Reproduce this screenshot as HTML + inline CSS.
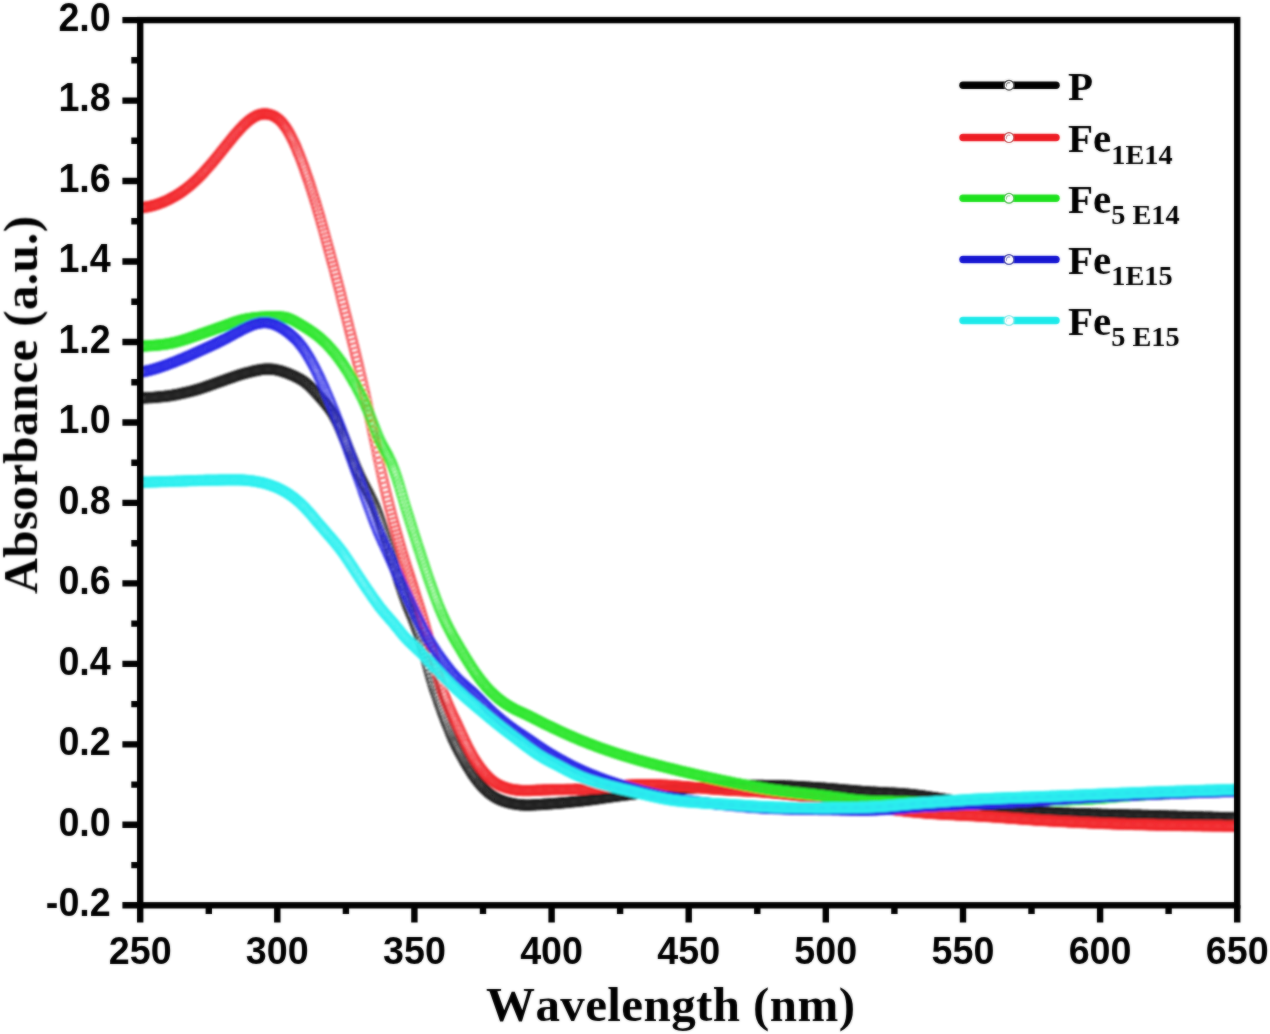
<!DOCTYPE html>
<html><head><meta charset="utf-8"><title>Absorbance vs Wavelength</title>
<style>
html,body{margin:0;padding:0;background:#fff;}
body{width:1270px;height:1034px;overflow:hidden;}
svg{display:block;}
.tick{font-family:"Liberation Sans",sans-serif;font-weight:bold;font-size:37.7px;fill:#000;}
.ttl{font-family:"Liberation Serif",serif;font-weight:bold;font-size:49px;fill:#000;font-kerning:none;}
.leg{font-family:"Liberation Serif",serif;font-weight:bold;font-size:41px;fill:#000;font-kerning:none;}
.sub{font-size:28.3px;}
</style></head><body>
<svg width="1270" height="1034" viewBox="0 0 1270 1034">
<defs>
<filter id="soft" x="-2%" y="-2%" width="104%" height="104%"><feGaussianBlur stdDeviation="0.8"/></filter>
<filter id="soft2" x="-2%" y="-2%" width="104%" height="104%"><feGaussianBlur stdDeviation="0.8" result="b"/><feComposite in="SourceGraphic" in2="b" operator="arithmetic" k1="0" k2="0.55" k3="0.45" k4="0"/></filter>
<clipPath id="plot"><rect x="140.2" y="20.1" width="1097.0" height="885.2"/></clipPath>
<marker id="m-black" markerUnits="userSpaceOnUse" markerWidth="16" markerHeight="16" refX="8" refY="8" overflow="visible"><circle cx="8" cy="8" r="5.0" fill="none" stroke="#1c1c1c" stroke-width="1.25" stroke-opacity="0.85"/></marker>
<marker id="m-red" markerUnits="userSpaceOnUse" markerWidth="16" markerHeight="16" refX="8" refY="8" overflow="visible"><circle cx="8" cy="8" r="5.0" fill="none" stroke="#f2282e" stroke-width="1.25" stroke-opacity="0.85"/></marker>
<marker id="m-green" markerUnits="userSpaceOnUse" markerWidth="16" markerHeight="16" refX="8" refY="8" overflow="visible"><circle cx="8" cy="8" r="5.0" fill="none" stroke="#2ee62e" stroke-width="1.25" stroke-opacity="0.85"/></marker>
<marker id="m-blue" markerUnits="userSpaceOnUse" markerWidth="16" markerHeight="16" refX="8" refY="8" overflow="visible"><circle cx="8" cy="8" r="5.0" fill="none" stroke="#2a2ae6" stroke-width="1.25" stroke-opacity="0.85"/></marker>
<marker id="m-cyan" markerUnits="userSpaceOnUse" markerWidth="16" markerHeight="16" refX="8" refY="8" overflow="visible"><circle cx="8" cy="8" r="5.0" fill="none" stroke="#2cf0f0" stroke-width="1.25" stroke-opacity="0.85"/></marker>
</defs>
<rect width="100%" height="100%" fill="#fff"/>
<g clip-path="url(#plot)" filter="url(#soft)">
<polyline fill="none" stroke="none" marker-start="url(#m-black)" marker-mid="url(#m-black)" marker-end="url(#m-black)" points="140.2,397.9 141.3,397.9 142.4,397.9 143.5,397.9 144.6,397.9 145.7,397.8 146.8,397.8 147.9,397.7 149.0,397.7 150.1,397.6 151.2,397.5 152.3,397.5 153.4,397.4 154.5,397.3 155.6,397.2 156.7,397.1 157.8,397.0 158.8,396.9 159.9,396.8 161.0,396.7 162.1,396.6 163.2,396.5 164.3,396.4 165.4,396.2 166.5,396.1 167.6,396.0 168.7,395.8 169.8,395.7 170.9,395.5 172.0,395.3 173.1,395.1 174.2,394.9 175.3,394.7 176.4,394.5 177.5,394.3 178.6,394.1 179.7,393.8 180.8,393.6 181.9,393.3 183.0,393.1 184.1,392.9 185.2,392.6 186.3,392.3 187.4,392.1 188.5,391.8 189.6,391.5 190.7,391.3 191.8,391.0 192.9,390.7 194.0,390.4 195.0,390.1 196.1,389.8 197.2,389.5 198.3,389.2 199.4,388.8 200.5,388.5 201.6,388.1 202.7,387.8 203.8,387.4 204.9,387.0 206.0,386.6 207.1,386.2 208.2,385.9 209.3,385.5 210.4,385.1 211.5,384.7 212.6,384.3 213.7,383.9 214.8,383.5 215.9,383.1 217.0,382.7 218.1,382.3 219.2,381.9 220.3,381.6 221.4,381.2 222.5,380.8 223.6,380.4 224.7,380.0 225.8,379.6 226.9,379.2 228.0,378.8 229.1,378.4 230.2,378.1 231.3,377.7 232.3,377.3 233.4,376.9 234.5,376.5 235.6,376.1 236.7,375.8 237.8,375.4 238.9,375.1 240.0,374.7 241.1,374.4 242.2,374.0 243.3,373.7 244.4,373.4 245.5,373.1 246.6,372.8 247.7,372.5 248.8,372.3 249.9,372.0 251.0,371.7 252.1,371.4 253.2,371.2 254.3,370.9 255.4,370.7 256.5,370.4 257.6,370.2 258.7,370.0 259.8,369.8 260.9,369.6 262.0,369.4 263.1,369.3 264.2,369.1 265.3,369.1 266.4,369.0 267.5,369.0 268.5,369.0 269.6,369.0 270.7,369.1 271.8,369.2 272.9,369.3 274.0,369.4 275.1,369.6 276.2,369.8 277.3,370.0 278.4,370.3 279.5,370.5 280.6,370.8 281.7,371.2 282.8,371.5 283.9,371.9 285.0,372.3 286.1,372.7 287.2,373.1 288.3,373.5 289.4,373.9 290.5,374.4 291.6,374.9 292.7,375.3 293.8,375.8 294.9,376.3 296.0,376.9 297.1,377.4 298.2,378.0 299.3,378.6 300.4,379.2 301.5,379.9 302.6,380.6 303.7,381.3 304.8,382.1 305.8,382.9 306.9,383.8 308.0,384.8 309.1,385.8 310.2,386.8 311.3,387.9 312.4,389.0 313.5,390.2 314.6,391.3 315.7,392.5 316.8,393.8 317.9,395.0 319.0,396.2 320.1,397.5 321.2,398.7 322.3,400.0 323.4,401.3 324.5,402.6 325.6,403.9 326.7,405.3 327.8,406.7 328.9,408.1 330.0,409.7 331.1,411.3 332.2,413.0 333.3,414.8 334.4,416.7 335.5,418.8 336.6,420.9 337.7,423.1 338.8,425.5 339.9,427.9 341.0,430.4 342.0,433.0 343.1,435.6 344.2,438.3 345.3,441.0 346.4,443.8 347.5,446.6 348.6,449.3 349.7,452.1 350.8,454.9 351.9,457.6 353.0,460.3 354.1,463.0 355.2,465.7 356.3,468.3 357.4,470.8 358.5,473.3 359.6,475.7 360.7,478.0 361.8,480.3 362.9,482.5 364.0,484.7 365.1,486.8 366.2,488.9 367.3,491.0 368.4,493.1 369.5,495.3 370.6,497.5 371.7,499.7 372.8,502.1 373.9,504.5 375.0,507.1 376.1,509.7 377.2,512.4 378.2,515.3 379.3,518.2 380.4,521.3 381.5,524.4 382.6,527.6 383.7,530.9 384.8,534.2 385.9,537.7 387.0,541.2 388.1,544.7 389.2,548.4 390.3,552.0 391.4,555.7 392.5,559.5 393.6,563.2 394.7,566.9 395.8,570.6 396.9,574.3 398.0,577.9 399.1,581.5 400.2,584.9 401.3,588.3 402.4,591.6 403.5,594.7 404.6,597.8 405.7,600.8 406.8,603.7 407.9,606.5 409.0,609.2 410.1,611.9 411.2,614.5 412.3,617.2 413.4,619.9 414.4,622.6 415.5,625.4 416.6,628.4 417.7,631.5 418.8,634.7 419.9,638.1 421.0,641.7 422.1,645.5 423.2,649.4 424.3,653.4 425.4,657.5 426.5,661.6 427.6,665.7 428.7,669.7 429.8,673.7 430.9,677.5 432.0,681.3 433.1,684.9 434.2,688.4 435.3,691.8 436.4,695.1 437.5,698.3 438.6,701.5 439.7,704.6 440.8,707.6 441.9,710.7 443.0,713.7 444.1,716.6 445.2,719.5 446.3,722.4 447.4,725.3 448.5,728.1 449.6,730.8 450.7,733.5 451.7,736.0 452.8,738.6 453.9,741.0 455.0,743.3 456.1,745.6 457.2,747.8 458.3,750.0 459.4,752.1 460.5,754.1 461.6,756.1 462.7,758.1 463.8,760.0 464.9,761.9 466.0,763.7 467.1,765.6 468.2,767.4 469.3,769.2 470.4,771.0 471.5,772.7 472.6,774.4 473.7,776.0 474.8,777.6 475.9,779.1 477.0,780.6 478.1,782.0 479.2,783.3 480.3,784.6 481.4,785.9 482.5,787.1 483.6,788.2 484.7,789.3 485.8,790.3 486.9,791.3 487.9,792.2 489.0,793.1 490.1,794.0 491.2,794.8 492.3,795.6 493.4,796.3 494.5,797.0 495.6,797.6 496.7,798.2 497.8,798.8 498.9,799.3 500.0,799.8 501.1,800.2 502.2,800.7 503.3,801.1 504.4,801.4 505.5,801.8 506.6,802.1 507.7,802.4 508.8,802.7 509.9,803.0 511.0,803.2 512.1,803.5 513.2,803.7 514.3,803.9 515.4,804.1 516.5,804.3 517.6,804.4 518.7,804.6 519.8,804.7 520.9,804.8 522.0,804.9 523.1,804.9 524.1,805.0 525.2,805.0 526.3,805.0 527.4,805.0 528.5,805.0 529.6,805.0 530.7,805.0 531.8,804.9 532.9,804.9 534.0,804.8 535.1,804.8 536.2,804.7 537.3,804.6 538.4,804.6 539.5,804.5 540.6,804.5 541.7,804.4 542.8,804.3 543.9,804.2 545.0,804.2 546.1,804.1 547.2,804.0 548.3,803.9 549.4,803.9 550.5,803.8 551.6,803.7 552.7,803.6 553.8,803.5 554.9,803.4 556.0,803.3 557.1,803.3 558.2,803.2 559.3,803.1 560.4,803.0 561.4,802.9 562.5,802.8 563.6,802.7 564.7,802.6 565.8,802.5 566.9,802.4 568.0,802.3 569.1,802.1 570.2,802.0 571.3,801.9 572.4,801.8 573.5,801.7 574.6,801.6 575.7,801.5 576.8,801.4 577.9,801.2 579.0,801.1 580.1,801.0 581.2,800.9 582.3,800.8 583.4,800.6 584.5,800.5 585.6,800.4 586.7,800.2 587.8,800.1 588.9,800.0 590.0,799.8 591.1,799.7 592.2,799.5 593.3,799.4 594.4,799.2 595.5,799.1 596.6,798.9 597.6,798.8 598.7,798.6 599.8,798.5 600.9,798.3 602.0,798.1 603.1,798.0 604.2,797.8 605.3,797.6 606.4,797.5 607.5,797.3 608.6,797.2 609.7,797.0 610.8,796.9 611.9,796.7 613.0,796.6 614.1,796.4 615.2,796.3 616.3,796.1 617.4,796.0 618.5,795.8 619.6,795.7 620.7,795.5 621.8,795.4 622.9,795.3 624.0,795.1 625.1,795.0 626.2,794.9 627.3,794.7 628.4,794.6 629.5,794.4 630.6,794.3 631.7,794.2 632.8,794.0 633.8,793.9 634.9,793.8 636.0,793.6 637.1,793.5 638.2,793.4 639.3,793.2 640.4,793.1 641.5,793.0 642.6,792.8 643.7,792.7 644.8,792.6 645.9,792.4 647.0,792.3 648.1,792.2 649.2,792.0 650.3,791.9 651.4,791.8 652.5,791.7 653.6,791.6 654.7,791.4 655.8,791.3 656.9,791.2 658.0,791.1 659.1,791.0 660.2,790.8 661.3,790.7 662.4,790.6 663.5,790.5 664.6,790.4 665.7,790.3 666.8,790.2 667.9,790.1 669.0,790.0 670.1,789.9 671.1,789.8 672.2,789.7 673.3,789.6 674.4,789.5 675.5,789.4 676.6,789.3 677.7,789.2 678.8,789.1 679.9,789.0 681.0,788.9 682.1,788.8 683.2,788.7 684.3,788.7 685.4,788.6 686.5,788.5 687.6,788.4 688.7,788.3 689.8,788.2 690.9,788.1 692.0,788.0 693.1,788.0 694.2,787.9 695.3,787.8 696.4,787.7 697.5,787.6 698.6,787.5 699.7,787.4 700.8,787.4 701.9,787.3 703.0,787.2 704.1,787.1 705.2,787.0 706.3,786.9 707.3,786.9 708.4,786.8 709.5,786.7 710.6,786.6 711.7,786.5 712.8,786.5 713.9,786.4 715.0,786.3 716.1,786.3 717.2,786.2 718.3,786.1 719.4,786.1 720.5,786.0 721.6,785.9 722.7,785.9 723.8,785.8 724.9,785.8 726.0,785.7 727.1,785.7 728.2,785.6 729.3,785.6 730.4,785.6 731.5,785.5 732.6,785.5 733.7,785.5 734.8,785.4 735.9,785.4 737.0,785.4 738.1,785.4 739.2,785.4 740.3,785.3 741.4,785.3 742.5,785.3 743.5,785.3 744.6,785.3 745.7,785.3 746.8,785.3 747.9,785.3 749.0,785.3 750.1,785.3 751.2,785.3 752.3,785.3 753.4,785.4 754.5,785.4 755.6,785.4 756.7,785.4 757.8,785.4 758.9,785.4 760.0,785.4 761.1,785.4 762.2,785.4 763.3,785.4 764.4,785.5 765.5,785.5 766.6,785.5 767.7,785.5 768.8,785.5 769.9,785.5 771.0,785.6 772.1,785.6 773.2,785.6 774.3,785.6 775.4,785.6 776.5,785.7 777.6,785.7 778.7,785.7 779.8,785.7 780.8,785.8 781.9,785.8 783.0,785.8 784.1,785.9 785.2,785.9 786.3,786.0 787.4,786.0 788.5,786.1 789.6,786.1 790.7,786.2 791.8,786.2 792.9,786.3 794.0,786.3 795.1,786.4 796.2,786.4 797.3,786.5 798.4,786.6 799.5,786.6 800.6,786.7 801.7,786.7 802.8,786.8 803.9,786.9 805.0,786.9 806.1,787.0 807.2,787.1 808.3,787.1 809.4,787.2 810.5,787.3 811.6,787.4 812.7,787.4 813.8,787.5 814.9,787.6 816.0,787.6 817.0,787.7 818.1,787.8 819.2,787.8 820.3,787.9 821.4,788.0 822.5,788.1 823.6,788.1 824.7,788.2 825.8,788.3 826.9,788.4 828.0,788.5 829.1,788.5 830.2,788.6 831.3,788.7 832.4,788.8 833.5,788.9 834.6,789.0 835.7,789.1 836.8,789.2 837.9,789.3 839.0,789.4 840.1,789.5 841.2,789.6 842.3,789.7 843.4,789.8 844.5,789.9 845.6,790.0 846.7,790.1 847.8,790.2 848.9,790.3 850.0,790.3 851.1,790.4 852.2,790.5 853.2,790.6 854.3,790.7 855.4,790.8 856.5,790.9 857.6,791.0 858.7,791.1 859.8,791.2 860.9,791.3 862.0,791.4 863.1,791.5 864.2,791.5 865.3,791.6 866.4,791.7 867.5,791.8 868.6,791.8 869.7,791.9 870.8,792.0 871.9,792.1 873.0,792.1 874.1,792.2 875.2,792.2 876.3,792.3 877.4,792.4 878.5,792.4 879.6,792.5 880.7,792.5 881.8,792.6 882.9,792.6 884.0,792.7 885.1,792.7 886.2,792.8 887.3,792.9 888.4,792.9 889.5,793.0 890.5,793.0 891.6,793.1 892.7,793.1 893.8,793.2 894.9,793.2 896.0,793.3 897.1,793.4 898.2,793.4 899.3,793.5 900.4,793.6 901.5,793.6 902.6,793.7 903.7,793.8 904.8,793.9 905.9,794.0 907.0,794.1 908.1,794.2 909.2,794.3 910.3,794.4 911.4,794.5 912.5,794.6 913.6,794.7 914.7,794.8 915.8,795.0 916.9,795.1 918.0,795.3 919.1,795.4 920.2,795.5 921.3,795.7 922.4,795.8 923.5,796.0 924.6,796.2 925.7,796.3 926.7,796.5 927.8,796.7 928.9,796.8 930.0,797.0 931.1,797.2 932.2,797.3 933.3,797.5 934.4,797.7 935.5,797.8 936.6,798.0 937.7,798.2 938.8,798.3 939.9,798.5 941.0,798.6 942.1,798.8 943.2,799.0 944.3,799.1 945.4,799.3 946.5,799.5 947.6,799.6 948.7,799.8 949.8,800.0 950.9,800.1 952.0,800.3 953.1,800.5 954.2,800.6 955.3,800.8 956.4,801.0 957.5,801.1 958.6,801.3 959.7,801.5 960.8,801.7 961.9,801.8 963.0,802.0 964.0,802.2 965.1,802.3 966.2,802.5 967.3,802.7 968.4,802.8 969.5,803.0 970.6,803.2 971.7,803.3 972.8,803.5 973.9,803.7 975.0,803.9 976.1,804.0 977.2,804.2 978.3,804.4 979.4,804.5 980.5,804.7 981.6,804.9 982.7,805.1 983.8,805.2 984.9,805.4 986.0,805.6 987.1,805.7 988.2,805.9 989.3,806.0 990.4,806.2 991.5,806.3 992.6,806.5 993.7,806.7 994.8,806.8 995.9,806.9 997.0,807.1 998.1,807.2 999.2,807.4 1000.2,807.5 1001.3,807.6 1002.4,807.8 1003.5,807.9 1004.6,808.0 1005.7,808.2 1006.8,808.3 1007.9,808.4 1009.0,808.6 1010.1,808.7 1011.2,808.8 1012.3,808.9 1013.4,809.1 1014.5,809.2 1015.6,809.3 1016.7,809.4 1017.8,809.6 1018.9,809.7 1020.0,809.8 1021.1,809.9 1022.2,810.0 1023.3,810.1 1024.4,810.3 1025.5,810.4 1026.6,810.5 1027.7,810.6 1028.8,810.7 1029.9,810.8 1031.0,810.9 1032.1,811.0 1033.2,811.1 1034.3,811.2 1035.4,811.3 1036.4,811.4 1037.5,811.5 1038.6,811.6 1039.7,811.6 1040.8,811.7 1041.9,811.8 1043.0,811.9 1044.1,812.0 1045.2,812.0 1046.3,812.1 1047.4,812.2 1048.5,812.2 1049.6,812.3 1050.7,812.4 1051.8,812.4 1052.9,812.5 1054.0,812.5 1055.1,812.6 1056.2,812.7 1057.3,812.7 1058.4,812.8 1059.5,812.8 1060.6,812.9 1061.7,812.9 1062.8,813.0 1063.9,813.0 1065.0,813.1 1066.1,813.1 1067.2,813.1 1068.3,813.2 1069.4,813.2 1070.5,813.3 1071.6,813.3 1072.6,813.4 1073.7,813.4 1074.8,813.4 1075.9,813.5 1077.0,813.5 1078.1,813.6 1079.2,813.6 1080.3,813.6 1081.4,813.7 1082.5,813.7 1083.6,813.7 1084.7,813.8 1085.8,813.8 1086.9,813.8 1088.0,813.9 1089.1,813.9 1090.2,813.9 1091.3,814.0 1092.4,814.0 1093.5,814.0 1094.6,814.1 1095.7,814.1 1096.8,814.1 1097.9,814.2 1099.0,814.2 1100.1,814.2 1101.2,814.3 1102.3,814.3 1103.4,814.3 1104.5,814.3 1105.6,814.4 1106.7,814.4 1107.8,814.4 1108.9,814.5 1109.9,814.5 1111.0,814.5 1112.1,814.5 1113.2,814.6 1114.3,814.6 1115.4,814.6 1116.5,814.6 1117.6,814.7 1118.7,814.7 1119.8,814.7 1120.9,814.7 1122.0,814.8 1123.1,814.8 1124.2,814.8 1125.3,814.8 1126.4,814.9 1127.5,814.9 1128.6,814.9 1129.7,815.0 1130.8,815.0 1131.9,815.0 1133.0,815.0 1134.1,815.1 1135.2,815.1 1136.3,815.1 1137.4,815.1 1138.5,815.2 1139.6,815.2 1140.7,815.2 1141.8,815.3 1142.9,815.3 1144.0,815.3 1145.1,815.3 1146.1,815.4 1147.2,815.4 1148.3,815.4 1149.4,815.5 1150.5,815.5 1151.6,815.5 1152.7,815.6 1153.8,815.6 1154.9,815.6 1156.0,815.6 1157.1,815.7 1158.2,815.7 1159.3,815.7 1160.4,815.8 1161.5,815.8 1162.6,815.8 1163.7,815.9 1164.8,815.9 1165.9,815.9 1167.0,815.9 1168.1,816.0 1169.2,816.0 1170.3,816.0 1171.4,816.1 1172.5,816.1 1173.6,816.1 1174.7,816.2 1175.8,816.2 1176.9,816.2 1178.0,816.3 1179.1,816.3 1180.2,816.3 1181.3,816.3 1182.3,816.4 1183.4,816.4 1184.5,816.4 1185.6,816.5 1186.7,816.5 1187.8,816.5 1188.9,816.6 1190.0,816.6 1191.1,816.6 1192.2,816.7 1193.3,816.7 1194.4,816.7 1195.5,816.8 1196.6,816.8 1197.7,816.8 1198.8,816.8 1199.9,816.9 1201.0,816.9 1202.1,816.9 1203.2,817.0 1204.3,817.0 1205.4,817.0 1206.5,817.1 1207.6,817.1 1208.7,817.1 1209.8,817.2 1210.9,817.2 1212.0,817.2 1213.1,817.3 1214.2,817.3 1215.3,817.3 1216.4,817.4 1217.5,817.4 1218.6,817.4 1219.6,817.5 1220.7,817.5 1221.8,817.5 1222.9,817.6 1224.0,817.6 1225.1,817.6 1226.2,817.7 1227.3,817.7 1228.4,817.7 1229.5,817.8 1230.6,817.8 1231.7,817.8 1232.8,817.8 1233.9,817.9 1235.0,817.9 1236.1,817.9 1237.2,817.9"/>
<polyline fill="none" stroke="none" marker-start="url(#m-red)" marker-mid="url(#m-red)" marker-end="url(#m-red)" points="140.2,207.7 141.3,207.6 142.4,207.5 143.5,207.4 144.6,207.2 145.7,207.1 146.8,206.9 147.9,206.7 149.0,206.5 150.1,206.2 151.2,206.0 152.3,205.7 153.4,205.4 154.5,205.1 155.6,204.8 156.7,204.4 157.8,204.0 158.8,203.7 159.9,203.3 161.0,202.8 162.1,202.4 163.2,201.9 164.3,201.5 165.4,201.0 166.5,200.5 167.6,200.0 168.7,199.4 169.8,198.9 170.9,198.3 172.0,197.7 173.1,197.1 174.2,196.5 175.3,195.9 176.4,195.2 177.5,194.6 178.6,193.9 179.7,193.2 180.8,192.4 181.9,191.7 183.0,190.9 184.1,190.1 185.2,189.3 186.3,188.5 187.4,187.6 188.5,186.7 189.6,185.8 190.7,184.9 191.8,184.0 192.9,183.0 194.0,182.0 195.0,181.0 196.1,180.0 197.2,179.0 198.3,177.9 199.4,176.8 200.5,175.7 201.6,174.5 202.7,173.4 203.8,172.2 204.9,171.0 206.0,169.8 207.1,168.6 208.2,167.3 209.3,166.1 210.4,164.8 211.5,163.5 212.6,162.2 213.7,160.9 214.8,159.6 215.9,158.2 217.0,156.9 218.1,155.5 219.2,154.2 220.3,152.8 221.4,151.5 222.5,150.1 223.6,148.7 224.7,147.3 225.8,146.0 226.9,144.6 228.0,143.2 229.1,141.9 230.2,140.5 231.3,139.2 232.3,137.9 233.4,136.5 234.5,135.2 235.6,134.0 236.7,132.7 237.8,131.4 238.9,130.2 240.0,129.0 241.1,127.9 242.2,126.7 243.3,125.6 244.4,124.5 245.5,123.5 246.6,122.5 247.7,121.5 248.8,120.6 249.9,119.8 251.0,118.9 252.1,118.2 253.2,117.5 254.3,116.8 255.4,116.2 256.5,115.7 257.6,115.2 258.7,114.8 259.8,114.5 260.9,114.2 262.0,114.0 263.1,113.9 264.2,113.8 265.3,113.8 266.4,113.9 267.5,114.0 268.5,114.2 269.6,114.5 270.7,114.8 271.8,115.1 272.9,115.6 274.0,116.1 275.1,116.7 276.2,117.4 277.3,118.2 278.4,119.0 279.5,120.0 280.6,121.1 281.7,122.3 282.8,123.6 283.9,125.0 285.0,126.5 286.1,128.1 287.2,129.8 288.3,131.6 289.4,133.6 290.5,135.6 291.6,137.7 292.7,139.9 293.8,142.2 294.9,144.6 296.0,147.1 297.1,149.7 298.2,152.4 299.3,155.1 300.4,157.9 301.5,160.7 302.6,163.7 303.7,166.6 304.8,169.7 305.8,172.8 306.9,175.9 308.0,179.1 309.1,182.3 310.2,185.6 311.3,189.0 312.4,192.4 313.5,195.9 314.6,199.4 315.7,203.0 316.8,206.7 317.9,210.4 319.0,214.2 320.1,218.1 321.2,221.9 322.3,225.8 323.4,229.8 324.5,233.7 325.6,237.7 326.7,241.7 327.8,245.7 328.9,249.8 330.0,253.8 331.1,257.9 332.2,262.0 333.3,266.1 334.4,270.2 335.5,274.4 336.6,278.6 337.7,282.8 338.8,287.0 339.9,291.3 341.0,295.6 342.0,299.9 343.1,304.2 344.2,308.5 345.3,312.9 346.4,317.3 347.5,321.6 348.6,326.0 349.7,330.4 350.8,334.8 351.9,339.2 353.0,343.6 354.1,348.0 355.2,352.5 356.3,357.0 357.4,361.5 358.5,366.1 359.6,370.8 360.7,375.5 361.8,380.3 362.9,385.1 364.0,390.1 365.1,395.1 366.2,400.2 367.3,405.3 368.4,410.5 369.5,415.7 370.6,420.9 371.7,426.2 372.8,431.5 373.9,436.7 375.0,442.0 376.1,447.2 377.2,452.5 378.2,457.7 379.3,462.8 380.4,467.9 381.5,472.9 382.6,477.9 383.7,482.8 384.8,487.5 385.9,492.2 387.0,496.8 388.1,501.3 389.2,505.7 390.3,510.0 391.4,514.2 392.5,518.4 393.6,522.5 394.7,526.5 395.8,530.5 396.9,534.5 398.0,538.3 399.1,542.2 400.2,546.0 401.3,549.7 402.4,553.4 403.5,557.1 404.6,560.7 405.7,564.2 406.8,567.7 407.9,571.2 409.0,574.6 410.1,578.0 411.2,581.4 412.3,584.8 413.4,588.2 414.4,591.6 415.5,595.0 416.6,598.4 417.7,601.9 418.8,605.4 419.9,608.9 421.0,612.5 422.1,616.2 423.2,619.8 424.3,623.6 425.4,627.3 426.5,631.2 427.6,635.1 428.7,639.1 429.8,643.2 430.9,647.3 432.0,651.5 433.1,655.8 434.2,660.1 435.3,664.3 436.4,668.5 437.5,672.7 438.6,676.8 439.7,680.7 440.8,684.4 441.9,688.0 443.0,691.4 444.1,694.6 445.2,697.6 446.3,700.5 447.4,703.2 448.5,705.8 449.6,708.3 450.7,710.7 451.7,713.0 452.8,715.4 453.9,717.7 455.0,719.9 456.1,722.2 457.2,724.6 458.3,726.9 459.4,729.3 460.5,731.7 461.6,734.0 462.7,736.4 463.8,738.8 464.9,741.2 466.0,743.5 467.1,745.7 468.2,747.9 469.3,750.0 470.4,752.1 471.5,754.1 472.6,756.0 473.7,757.9 474.8,759.6 475.9,761.4 477.0,763.1 478.1,764.7 479.2,766.2 480.3,767.7 481.4,769.2 482.5,770.6 483.6,771.9 484.7,773.2 485.8,774.5 486.9,775.6 487.9,776.7 489.0,777.8 490.1,778.8 491.2,779.7 492.3,780.6 493.4,781.5 494.5,782.2 495.6,783.0 496.7,783.7 497.8,784.3 498.9,784.9 500.0,785.4 501.1,785.9 502.2,786.4 503.3,786.8 504.4,787.2 505.5,787.6 506.6,787.9 507.7,788.3 508.8,788.5 509.9,788.8 511.0,789.1 512.1,789.3 513.2,789.5 514.3,789.7 515.4,789.8 516.5,790.0 517.6,790.1 518.7,790.2 519.8,790.3 520.9,790.4 522.0,790.5 523.1,790.5 524.1,790.6 525.2,790.6 526.3,790.6 527.4,790.6 528.5,790.6 529.6,790.5 530.7,790.5 531.8,790.4 532.9,790.4 534.0,790.3 535.1,790.3 536.2,790.2 537.3,790.2 538.4,790.1 539.5,790.1 540.6,790.0 541.7,790.0 542.8,789.9 543.9,789.9 545.0,789.9 546.1,789.8 547.2,789.8 548.3,789.8 549.4,789.8 550.5,789.7 551.6,789.7 552.7,789.7 553.8,789.7 554.9,789.6 556.0,789.6 557.1,789.6 558.2,789.6 559.3,789.6 560.4,789.5 561.4,789.5 562.5,789.5 563.6,789.5 564.7,789.5 565.8,789.4 566.9,789.4 568.0,789.4 569.1,789.4 570.2,789.3 571.3,789.3 572.4,789.3 573.5,789.3 574.6,789.2 575.7,789.2 576.8,789.2 577.9,789.2 579.0,789.1 580.1,789.1 581.2,789.1 582.3,789.0 583.4,789.0 584.5,788.9 585.6,788.9 586.7,788.8 587.8,788.8 588.9,788.7 590.0,788.6 591.1,788.6 592.2,788.5 593.3,788.4 594.4,788.3 595.5,788.3 596.6,788.2 597.6,788.1 598.7,788.0 599.8,787.9 600.9,787.8 602.0,787.7 603.1,787.6 604.2,787.4 605.3,787.3 606.4,787.2 607.5,787.1 608.6,787.0 609.7,786.9 610.8,786.8 611.9,786.7 613.0,786.5 614.1,786.4 615.2,786.3 616.3,786.2 617.4,786.1 618.5,786.0 619.6,785.9 620.7,785.8 621.8,785.7 622.9,785.6 624.0,785.5 625.1,785.4 626.2,785.3 627.3,785.2 628.4,785.1 629.5,785.1 630.6,785.0 631.7,784.9 632.8,784.9 633.8,784.8 634.9,784.8 636.0,784.7 637.1,784.7 638.2,784.6 639.3,784.6 640.4,784.6 641.5,784.6 642.6,784.6 643.7,784.6 644.8,784.6 645.9,784.6 647.0,784.6 648.1,784.6 649.2,784.6 650.3,784.6 651.4,784.6 652.5,784.7 653.6,784.7 654.7,784.7 655.8,784.8 656.9,784.8 658.0,784.8 659.1,784.9 660.2,784.9 661.3,784.9 662.4,785.0 663.5,785.0 664.6,785.1 665.7,785.2 666.8,785.2 667.9,785.3 669.0,785.4 670.1,785.4 671.1,785.5 672.2,785.6 673.3,785.7 674.4,785.8 675.5,785.8 676.6,785.9 677.7,786.0 678.8,786.1 679.9,786.2 681.0,786.3 682.1,786.4 683.2,786.5 684.3,786.5 685.4,786.6 686.5,786.7 687.6,786.8 688.7,786.9 689.8,787.0 690.9,787.1 692.0,787.2 693.1,787.3 694.2,787.4 695.3,787.5 696.4,787.6 697.5,787.7 698.6,787.7 699.7,787.8 700.8,787.9 701.9,788.0 703.0,788.1 704.1,788.2 705.2,788.3 706.3,788.4 707.3,788.5 708.4,788.6 709.5,788.7 710.6,788.8 711.7,788.9 712.8,788.9 713.9,789.0 715.0,789.1 716.1,789.2 717.2,789.3 718.3,789.4 719.4,789.5 720.5,789.5 721.6,789.6 722.7,789.7 723.8,789.8 724.9,789.8 726.0,789.9 727.1,790.0 728.2,790.0 729.3,790.1 730.4,790.2 731.5,790.2 732.6,790.3 733.7,790.3 734.8,790.4 735.9,790.4 737.0,790.5 738.1,790.6 739.2,790.6 740.3,790.7 741.4,790.7 742.5,790.8 743.5,790.8 744.6,790.9 745.7,790.9 746.8,791.0 747.9,791.0 749.0,791.1 750.1,791.1 751.2,791.2 752.3,791.2 753.4,791.3 754.5,791.4 755.6,791.4 756.7,791.5 757.8,791.6 758.9,791.7 760.0,791.7 761.1,791.8 762.2,791.9 763.3,792.0 764.4,792.1 765.5,792.2 766.6,792.3 767.7,792.4 768.8,792.5 769.9,792.6 771.0,792.7 772.1,792.8 773.2,792.9 774.3,793.0 775.4,793.1 776.5,793.2 777.6,793.3 778.7,793.5 779.8,793.6 780.8,793.7 781.9,793.8 783.0,794.0 784.1,794.1 785.2,794.2 786.3,794.4 787.4,794.5 788.5,794.6 789.6,794.7 790.7,794.9 791.8,795.0 792.9,795.1 794.0,795.3 795.1,795.4 796.2,795.5 797.3,795.7 798.4,795.8 799.5,795.9 800.6,796.1 801.7,796.2 802.8,796.4 803.9,796.5 805.0,796.6 806.1,796.8 807.2,796.9 808.3,797.0 809.4,797.2 810.5,797.3 811.6,797.5 812.7,797.6 813.8,797.8 814.9,797.9 816.0,798.1 817.0,798.2 818.1,798.4 819.2,798.5 820.3,798.7 821.4,798.8 822.5,799.0 823.6,799.1 824.7,799.3 825.8,799.4 826.9,799.6 828.0,799.7 829.1,799.9 830.2,800.1 831.3,800.2 832.4,800.4 833.5,800.5 834.6,800.7 835.7,800.9 836.8,801.0 837.9,801.2 839.0,801.4 840.1,801.5 841.2,801.7 842.3,801.8 843.4,802.0 844.5,802.2 845.6,802.3 846.7,802.5 847.8,802.7 848.9,802.8 850.0,803.0 851.1,803.2 852.2,803.4 853.2,803.5 854.3,803.7 855.4,803.9 856.5,804.1 857.6,804.2 858.7,804.4 859.8,804.6 860.9,804.8 862.0,805.0 863.1,805.2 864.2,805.3 865.3,805.5 866.4,805.7 867.5,805.9 868.6,806.0 869.7,806.2 870.8,806.4 871.9,806.6 873.0,806.7 874.1,806.9 875.2,807.1 876.3,807.2 877.4,807.4 878.5,807.5 879.6,807.7 880.7,807.8 881.8,808.0 882.9,808.1 884.0,808.3 885.1,808.4 886.2,808.6 887.3,808.7 888.4,808.9 889.5,809.0 890.5,809.2 891.6,809.3 892.7,809.5 893.8,809.6 894.9,809.8 896.0,809.9 897.1,810.0 898.2,810.2 899.3,810.3 900.4,810.4 901.5,810.6 902.6,810.7 903.7,810.8 904.8,811.0 905.9,811.1 907.0,811.2 908.1,811.3 909.2,811.5 910.3,811.6 911.4,811.7 912.5,811.8 913.6,811.9 914.7,812.0 915.8,812.1 916.9,812.2 918.0,812.3 919.1,812.4 920.2,812.5 921.3,812.6 922.4,812.7 923.5,812.8 924.6,812.9 925.7,813.0 926.7,813.1 927.8,813.1 928.9,813.2 930.0,813.3 931.1,813.4 932.2,813.4 933.3,813.5 934.4,813.6 935.5,813.7 936.6,813.7 937.7,813.8 938.8,813.9 939.9,813.9 941.0,814.0 942.1,814.1 943.2,814.1 944.3,814.2 945.4,814.2 946.5,814.3 947.6,814.4 948.7,814.4 949.8,814.5 950.9,814.5 952.0,814.6 953.1,814.6 954.2,814.7 955.3,814.8 956.4,814.8 957.5,814.9 958.6,814.9 959.7,815.0 960.8,815.0 961.9,815.1 963.0,815.1 964.0,815.2 965.1,815.3 966.2,815.3 967.3,815.4 968.4,815.4 969.5,815.5 970.6,815.5 971.7,815.6 972.8,815.7 973.9,815.7 975.0,815.8 976.1,815.8 977.2,815.9 978.3,816.0 979.4,816.0 980.5,816.1 981.6,816.1 982.7,816.2 983.8,816.3 984.9,816.3 986.0,816.4 987.1,816.5 988.2,816.6 989.3,816.6 990.4,816.7 991.5,816.8 992.6,816.8 993.7,816.9 994.8,817.0 995.9,817.1 997.0,817.1 998.1,817.2 999.2,817.3 1000.2,817.4 1001.3,817.5 1002.4,817.5 1003.5,817.6 1004.6,817.7 1005.7,817.8 1006.8,817.9 1007.9,818.0 1009.0,818.0 1010.1,818.1 1011.2,818.2 1012.3,818.3 1013.4,818.4 1014.5,818.4 1015.6,818.5 1016.7,818.6 1017.8,818.7 1018.9,818.8 1020.0,818.9 1021.1,818.9 1022.2,819.0 1023.3,819.1 1024.4,819.2 1025.5,819.3 1026.6,819.3 1027.7,819.4 1028.8,819.5 1029.9,819.6 1031.0,819.7 1032.1,819.7 1033.2,819.8 1034.3,819.9 1035.4,820.0 1036.4,820.0 1037.5,820.1 1038.6,820.2 1039.7,820.2 1040.8,820.3 1041.9,820.4 1043.0,820.4 1044.1,820.5 1045.2,820.6 1046.3,820.6 1047.4,820.7 1048.5,820.8 1049.6,820.8 1050.7,820.9 1051.8,820.9 1052.9,821.0 1054.0,821.1 1055.1,821.1 1056.2,821.2 1057.3,821.2 1058.4,821.3 1059.5,821.4 1060.6,821.4 1061.7,821.5 1062.8,821.5 1063.9,821.6 1065.0,821.6 1066.1,821.7 1067.2,821.8 1068.3,821.8 1069.4,821.9 1070.5,821.9 1071.6,822.0 1072.6,822.0 1073.7,822.1 1074.8,822.1 1075.9,822.2 1077.0,822.2 1078.1,822.3 1079.2,822.4 1080.3,822.4 1081.4,822.5 1082.5,822.5 1083.6,822.6 1084.7,822.6 1085.8,822.7 1086.9,822.7 1088.0,822.8 1089.1,822.8 1090.2,822.9 1091.3,822.9 1092.4,823.0 1093.5,823.0 1094.6,823.1 1095.7,823.1 1096.8,823.2 1097.9,823.2 1099.0,823.3 1100.1,823.3 1101.2,823.4 1102.3,823.4 1103.4,823.4 1104.5,823.5 1105.6,823.5 1106.7,823.6 1107.8,823.6 1108.9,823.7 1109.9,823.7 1111.0,823.7 1112.1,823.8 1113.2,823.8 1114.3,823.9 1115.4,823.9 1116.5,823.9 1117.6,824.0 1118.7,824.0 1119.8,824.1 1120.9,824.1 1122.0,824.1 1123.1,824.2 1124.2,824.2 1125.3,824.2 1126.4,824.3 1127.5,824.3 1128.6,824.3 1129.7,824.3 1130.8,824.4 1131.9,824.4 1133.0,824.4 1134.1,824.5 1135.2,824.5 1136.3,824.5 1137.4,824.5 1138.5,824.6 1139.6,824.6 1140.7,824.6 1141.8,824.6 1142.9,824.7 1144.0,824.7 1145.1,824.7 1146.1,824.7 1147.2,824.8 1148.3,824.8 1149.4,824.8 1150.5,824.8 1151.6,824.9 1152.7,824.9 1153.8,824.9 1154.9,824.9 1156.0,825.0 1157.1,825.0 1158.2,825.0 1159.3,825.0 1160.4,825.0 1161.5,825.1 1162.6,825.1 1163.7,825.1 1164.8,825.1 1165.9,825.2 1167.0,825.2 1168.1,825.2 1169.2,825.2 1170.3,825.2 1171.4,825.3 1172.5,825.3 1173.6,825.3 1174.7,825.3 1175.8,825.3 1176.9,825.4 1178.0,825.4 1179.1,825.4 1180.2,825.4 1181.3,825.4 1182.3,825.5 1183.4,825.5 1184.5,825.5 1185.6,825.5 1186.7,825.5 1187.8,825.6 1188.9,825.6 1190.0,825.6 1191.1,825.6 1192.2,825.6 1193.3,825.6 1194.4,825.7 1195.5,825.7 1196.6,825.7 1197.7,825.7 1198.8,825.7 1199.9,825.7 1201.0,825.7 1202.1,825.8 1203.2,825.8 1204.3,825.8 1205.4,825.8 1206.5,825.8 1207.6,825.8 1208.7,825.8 1209.8,825.8 1210.9,825.9 1212.0,825.9 1213.1,825.9 1214.2,825.9 1215.3,825.9 1216.4,825.9 1217.5,825.9 1218.6,825.9 1219.6,825.9 1220.7,825.9 1221.8,825.9 1222.9,826.0 1224.0,826.0 1225.1,826.0 1226.2,826.0 1227.3,826.0 1228.4,826.0 1229.5,826.0 1230.6,826.0 1231.7,826.0 1232.8,826.0 1233.9,826.0 1235.0,826.0 1236.1,826.0 1237.2,826.0"/>
<polyline fill="none" stroke="none" marker-start="url(#m-green)" marker-mid="url(#m-green)" marker-end="url(#m-green)" points="140.2,346.1 141.3,346.1 142.4,346.0 143.5,346.0 144.6,345.9 145.7,345.9 146.8,345.8 147.9,345.8 149.0,345.7 150.1,345.6 151.2,345.5 152.3,345.5 153.4,345.4 154.5,345.3 155.6,345.2 156.7,345.1 157.8,345.0 158.8,344.9 159.9,344.8 161.0,344.7 162.1,344.5 163.2,344.4 164.3,344.3 165.4,344.1 166.5,343.9 167.6,343.8 168.7,343.6 169.8,343.4 170.9,343.2 172.0,342.9 173.1,342.7 174.2,342.5 175.3,342.2 176.4,341.9 177.5,341.6 178.6,341.3 179.7,341.0 180.8,340.7 181.9,340.4 183.0,340.1 184.1,339.7 185.2,339.4 186.3,339.0 187.4,338.7 188.5,338.3 189.6,337.9 190.7,337.6 191.8,337.2 192.9,336.8 194.0,336.4 195.0,336.1 196.1,335.7 197.2,335.3 198.3,334.9 199.4,334.5 200.5,334.1 201.6,333.7 202.7,333.3 203.8,333.0 204.9,332.6 206.0,332.2 207.1,331.8 208.2,331.4 209.3,331.0 210.4,330.6 211.5,330.3 212.6,329.9 213.7,329.5 214.8,329.1 215.9,328.7 217.0,328.3 218.1,327.9 219.2,327.5 220.3,327.2 221.4,326.8 222.5,326.4 223.6,326.0 224.7,325.6 225.8,325.2 226.9,324.8 228.0,324.4 229.1,324.0 230.2,323.6 231.3,323.2 232.3,322.8 233.4,322.4 234.5,322.1 235.6,321.7 236.7,321.3 237.8,321.0 238.9,320.7 240.0,320.4 241.1,320.1 242.2,319.8 243.3,319.5 244.4,319.3 245.5,319.1 246.6,318.8 247.7,318.6 248.8,318.5 249.9,318.3 251.0,318.1 252.1,318.0 253.2,317.8 254.3,317.7 255.4,317.6 256.5,317.5 257.6,317.4 258.7,317.3 259.8,317.2 260.9,317.1 262.0,317.0 263.1,317.0 264.2,316.9 265.3,316.8 266.4,316.8 267.5,316.8 268.5,316.7 269.6,316.7 270.7,316.7 271.8,316.7 272.9,316.6 274.0,316.6 275.1,316.6 276.2,316.6 277.3,316.7 278.4,316.7 279.5,316.7 280.6,316.8 281.7,316.9 282.8,317.0 283.9,317.1 285.0,317.3 286.1,317.6 287.2,317.9 288.3,318.2 289.4,318.6 290.5,319.0 291.6,319.5 292.7,320.1 293.8,320.6 294.9,321.2 296.0,321.8 297.1,322.5 298.2,323.1 299.3,323.7 300.4,324.4 301.5,325.0 302.6,325.7 303.7,326.3 304.8,327.0 305.8,327.7 306.9,328.3 308.0,329.0 309.1,329.7 310.2,330.5 311.3,331.2 312.4,332.0 313.5,332.7 314.6,333.5 315.7,334.4 316.8,335.2 317.9,336.1 319.0,337.0 320.1,337.9 321.2,338.9 322.3,339.9 323.4,340.9 324.5,342.0 325.6,343.0 326.7,344.1 327.8,345.3 328.9,346.5 330.0,347.7 331.1,348.9 332.2,350.2 333.3,351.5 334.4,352.8 335.5,354.2 336.6,355.6 337.7,357.0 338.8,358.5 339.9,360.0 341.0,361.5 342.0,363.0 343.1,364.6 344.2,366.2 345.3,367.9 346.4,369.6 347.5,371.3 348.6,373.1 349.7,374.9 350.8,376.7 351.9,378.5 353.0,380.4 354.1,382.4 355.2,384.3 356.3,386.3 357.4,388.4 358.5,390.5 359.6,392.6 360.7,394.8 361.8,397.0 362.9,399.3 364.0,401.7 365.1,404.1 366.2,406.7 367.3,409.3 368.4,412.0 369.5,414.7 370.6,417.5 371.7,420.4 372.8,423.3 373.9,426.1 375.0,429.0 376.1,431.7 377.2,434.4 378.2,436.9 379.3,439.4 380.4,441.7 381.5,443.9 382.6,446.0 383.7,448.0 384.8,450.0 385.9,452.0 387.0,454.0 388.1,456.1 389.2,458.4 390.3,460.7 391.4,463.1 392.5,465.8 393.6,468.6 394.7,471.6 395.8,474.7 396.9,478.0 398.0,481.5 399.1,485.1 400.2,488.7 401.3,492.5 402.4,496.2 403.5,500.0 404.6,503.7 405.7,507.4 406.8,511.0 407.9,514.6 409.0,518.1 410.1,521.6 411.2,525.1 412.3,528.5 413.4,531.9 414.4,535.3 415.5,538.6 416.6,542.0 417.7,545.4 418.8,548.8 419.9,552.1 421.0,555.5 422.1,558.9 423.2,562.2 424.3,565.6 425.4,568.9 426.5,572.2 427.6,575.4 428.7,578.7 429.8,581.9 430.9,585.1 432.0,588.2 433.1,591.3 434.2,594.3 435.3,597.3 436.4,600.2 437.5,603.1 438.6,605.9 439.7,608.6 440.8,611.2 441.9,613.8 443.0,616.3 444.1,618.8 445.2,621.1 446.3,623.4 447.4,625.6 448.5,627.8 449.6,629.9 450.7,631.9 451.7,633.9 452.8,635.9 453.9,637.9 455.0,639.8 456.1,641.7 457.2,643.6 458.3,645.5 459.4,647.3 460.5,649.2 461.6,651.0 462.7,652.8 463.8,654.6 464.9,656.5 466.0,658.2 467.1,660.0 468.2,661.8 469.3,663.5 470.4,665.3 471.5,667.0 472.6,668.6 473.7,670.3 474.8,671.9 475.9,673.5 477.0,675.1 478.1,676.6 479.2,678.1 480.3,679.5 481.4,680.9 482.5,682.3 483.6,683.6 484.7,684.9 485.8,686.2 486.9,687.4 487.9,688.6 489.0,689.8 490.1,690.9 491.2,692.0 492.3,693.1 493.4,694.1 494.5,695.1 495.6,696.1 496.7,697.0 497.8,698.0 498.9,698.9 500.0,699.7 501.1,700.6 502.2,701.4 503.3,702.2 504.4,703.0 505.5,703.7 506.6,704.4 507.7,705.1 508.8,705.8 509.9,706.5 511.0,707.1 512.1,707.7 513.2,708.3 514.3,708.9 515.4,709.5 516.5,710.0 517.6,710.6 518.7,711.1 519.8,711.6 520.9,712.1 522.0,712.6 523.1,713.1 524.1,713.6 525.2,714.1 526.3,714.6 527.4,715.1 528.5,715.7 529.6,716.2 530.7,716.7 531.8,717.3 532.9,717.8 534.0,718.4 535.1,718.9 536.2,719.5 537.3,720.1 538.4,720.6 539.5,721.2 540.6,721.8 541.7,722.3 542.8,722.9 543.9,723.4 545.0,724.0 546.1,724.5 547.2,725.0 548.3,725.6 549.4,726.1 550.5,726.6 551.6,727.2 552.7,727.7 553.8,728.2 554.9,728.7 556.0,729.2 557.1,729.7 558.2,730.3 559.3,730.8 560.4,731.3 561.4,731.8 562.5,732.3 563.6,732.8 564.7,733.3 565.8,733.8 566.9,734.3 568.0,734.8 569.1,735.3 570.2,735.8 571.3,736.2 572.4,736.7 573.5,737.2 574.6,737.7 575.7,738.1 576.8,738.6 577.9,739.1 579.0,739.5 580.1,740.0 581.2,740.4 582.3,740.9 583.4,741.3 584.5,741.7 585.6,742.2 586.7,742.6 587.8,743.0 588.9,743.5 590.0,743.9 591.1,744.3 592.2,744.7 593.3,745.1 594.4,745.5 595.5,746.0 596.6,746.4 597.6,746.8 598.7,747.2 599.8,747.6 600.9,748.0 602.0,748.4 603.1,748.8 604.2,749.1 605.3,749.5 606.4,749.9 607.5,750.3 608.6,750.7 609.7,751.1 610.8,751.4 611.9,751.8 613.0,752.2 614.1,752.5 615.2,752.9 616.3,753.3 617.4,753.6 618.5,754.0 619.6,754.3 620.7,754.7 621.8,755.0 622.9,755.4 624.0,755.7 625.1,756.1 626.2,756.4 627.3,756.7 628.4,757.1 629.5,757.4 630.6,757.7 631.7,758.1 632.8,758.4 633.8,758.7 634.9,759.0 636.0,759.3 637.1,759.7 638.2,760.0 639.3,760.3 640.4,760.6 641.5,760.9 642.6,761.2 643.7,761.5 644.8,761.8 645.9,762.1 647.0,762.4 648.1,762.7 649.2,763.0 650.3,763.3 651.4,763.6 652.5,763.9 653.6,764.2 654.7,764.4 655.8,764.7 656.9,765.0 658.0,765.3 659.1,765.6 660.2,765.9 661.3,766.1 662.4,766.4 663.5,766.7 664.6,767.0 665.7,767.3 666.8,767.5 667.9,767.8 669.0,768.1 670.1,768.3 671.1,768.6 672.2,768.9 673.3,769.2 674.4,769.4 675.5,769.7 676.6,770.0 677.7,770.2 678.8,770.5 679.9,770.8 681.0,771.0 682.1,771.3 683.2,771.6 684.3,771.8 685.4,772.1 686.5,772.4 687.6,772.6 688.7,772.9 689.8,773.2 690.9,773.4 692.0,773.7 693.1,773.9 694.2,774.2 695.3,774.5 696.4,774.7 697.5,775.0 698.6,775.2 699.7,775.5 700.8,775.7 701.9,776.0 703.0,776.2 704.1,776.5 705.2,776.7 706.3,777.0 707.3,777.2 708.4,777.5 709.5,777.7 710.6,778.0 711.7,778.2 712.8,778.4 713.9,778.7 715.0,778.9 716.1,779.2 717.2,779.4 718.3,779.6 719.4,779.9 720.5,780.1 721.6,780.3 722.7,780.6 723.8,780.8 724.9,781.0 726.0,781.2 727.1,781.5 728.2,781.7 729.3,781.9 730.4,782.1 731.5,782.4 732.6,782.6 733.7,782.8 734.8,783.0 735.9,783.3 737.0,783.5 738.1,783.7 739.2,783.9 740.3,784.1 741.4,784.3 742.5,784.6 743.5,784.8 744.6,785.0 745.7,785.2 746.8,785.4 747.9,785.6 749.0,785.8 750.1,786.1 751.2,786.3 752.3,786.5 753.4,786.7 754.5,786.9 755.6,787.1 756.7,787.3 757.8,787.5 758.9,787.7 760.0,787.9 761.1,788.0 762.2,788.2 763.3,788.4 764.4,788.6 765.5,788.8 766.6,789.0 767.7,789.1 768.8,789.3 769.9,789.5 771.0,789.6 772.1,789.8 773.2,790.0 774.3,790.1 775.4,790.3 776.5,790.4 777.6,790.6 778.7,790.7 779.8,790.9 780.8,791.0 781.9,791.2 783.0,791.3 784.1,791.5 785.2,791.6 786.3,791.7 787.4,791.9 788.5,792.0 789.6,792.1 790.7,792.3 791.8,792.4 792.9,792.5 794.0,792.6 795.1,792.8 796.2,792.9 797.3,793.0 798.4,793.1 799.5,793.2 800.6,793.4 801.7,793.5 802.8,793.6 803.9,793.7 805.0,793.8 806.1,794.0 807.2,794.1 808.3,794.2 809.4,794.3 810.5,794.4 811.6,794.6 812.7,794.7 813.8,794.8 814.9,794.9 816.0,795.1 817.0,795.2 818.1,795.3 819.2,795.4 820.3,795.6 821.4,795.7 822.5,795.8 823.6,796.0 824.7,796.1 825.8,796.2 826.9,796.4 828.0,796.5 829.1,796.7 830.2,796.8 831.3,797.0 832.4,797.1 833.5,797.3 834.6,797.5 835.7,797.6 836.8,797.8 837.9,797.9 839.0,798.1 840.1,798.2 841.2,798.4 842.3,798.6 843.4,798.7 844.5,798.9 845.6,799.0 846.7,799.2 847.8,799.3 848.9,799.5 850.0,799.6 851.1,799.7 852.2,799.9 853.2,800.0 854.3,800.1 855.4,800.2 856.5,800.3 857.6,800.5 858.7,800.6 859.8,800.7 860.9,800.7 862.0,800.8 863.1,800.9 864.2,801.0 865.3,801.1 866.4,801.1 867.5,801.2 868.6,801.2 869.7,801.3 870.8,801.3 871.9,801.4 873.0,801.4 874.1,801.4 875.2,801.5 876.3,801.5 877.4,801.5 878.5,801.6 879.6,801.6 880.7,801.6 881.8,801.7 882.9,801.7 884.0,801.7 885.1,801.8 886.2,801.8 887.3,801.8 888.4,801.8 889.5,801.9 890.5,801.9 891.6,801.9 892.7,801.9 893.8,802.0 894.9,802.0 896.0,802.0 897.1,802.0 898.2,802.1 899.3,802.1 900.4,802.1 901.5,802.1 902.6,802.1 903.7,802.2 904.8,802.2 905.9,802.2 907.0,802.2 908.1,802.2 909.2,802.2 910.3,802.3 911.4,802.3 912.5,802.3 913.6,802.3 914.7,802.3 915.8,802.3 916.9,802.4 918.0,802.4 919.1,802.4 920.2,802.4 921.3,802.4 922.4,802.4 923.5,802.4 924.6,802.4 925.7,802.4 926.7,802.4 927.8,802.5 928.9,802.5 930.0,802.5 931.1,802.5 932.2,802.5 933.3,802.5 934.4,802.5 935.5,802.5 936.6,802.5 937.7,802.5 938.8,802.5 939.9,802.5 941.0,802.5 942.1,802.5 943.2,802.5 944.3,802.5 945.4,802.5 946.5,802.4 947.6,802.4 948.7,802.4 949.8,802.4 950.9,802.4 952.0,802.4 953.1,802.3 954.2,802.3 955.3,802.3 956.4,802.3 957.5,802.3 958.6,802.2 959.7,802.2 960.8,802.2 961.9,802.1 963.0,802.1 964.0,802.1 965.1,802.1 966.2,802.0 967.3,802.0 968.4,802.0 969.5,801.9 970.6,801.9 971.7,801.9 972.8,801.8 973.9,801.8 975.0,801.7 976.1,801.7 977.2,801.7 978.3,801.6 979.4,801.6 980.5,801.6 981.6,801.5 982.7,801.5 983.8,801.5 984.9,801.4 986.0,801.4 987.1,801.4 988.2,801.3 989.3,801.3 990.4,801.3 991.5,801.2 992.6,801.2 993.7,801.2 994.8,801.1 995.9,801.1 997.0,801.1 998.1,801.1 999.2,801.0 1000.2,801.0 1001.3,801.0 1002.4,801.0 1003.5,800.9 1004.6,800.9 1005.7,800.9 1006.8,800.9 1007.9,800.8 1009.0,800.8 1010.1,800.8 1011.2,800.8 1012.3,800.8 1013.4,800.7 1014.5,800.7 1015.6,800.7 1016.7,800.7 1017.8,800.7 1018.9,800.7 1020.0,800.6 1021.1,800.6 1022.2,800.6 1023.3,800.6 1024.4,800.6 1025.5,800.6 1026.6,800.5 1027.7,800.5 1028.8,800.5 1029.9,800.5 1031.0,800.5 1032.1,800.5 1033.2,800.4 1034.3,800.4 1035.4,800.4 1036.4,800.4 1037.5,800.4 1038.6,800.4 1039.7,800.3 1040.8,800.3 1041.9,800.3 1043.0,800.3 1044.1,800.3 1045.2,800.3 1046.3,800.2 1047.4,800.2 1048.5,800.2 1049.6,800.2 1050.7,800.2 1051.8,800.2 1052.9,800.1 1054.0,800.1 1055.1,800.1 1056.2,800.1 1057.3,800.0 1058.4,800.0 1059.5,800.0 1060.6,800.0 1061.7,800.0 1062.8,799.9 1063.9,799.9 1065.0,799.9 1066.1,799.9 1067.2,799.8 1068.3,799.8 1069.4,799.8 1070.5,799.8 1071.6,799.7 1072.6,799.7 1073.7,799.7 1074.8,799.6 1075.9,799.6 1077.0,799.6 1078.1,799.5 1079.2,799.5 1080.3,799.5 1081.4,799.4 1082.5,799.4 1083.6,799.3 1084.7,799.3 1085.8,799.2 1086.9,799.2 1088.0,799.1 1089.1,799.0 1090.2,799.0 1091.3,798.9 1092.4,798.8 1093.5,798.8 1094.6,798.7 1095.7,798.6 1096.8,798.5 1097.9,798.4 1099.0,798.3 1100.1,798.3 1101.2,798.2 1102.3,798.1 1103.4,798.0 1104.5,797.9 1105.6,797.8 1106.7,797.7 1107.8,797.6 1108.9,797.5 1109.9,797.4 1111.0,797.3 1112.1,797.2 1113.2,797.1 1114.3,797.0 1115.4,796.9 1116.5,796.8 1117.6,796.7 1118.7,796.6 1119.8,796.5 1120.9,796.4 1122.0,796.3 1123.1,796.2 1124.2,796.1 1125.3,796.0 1126.4,795.9 1127.5,795.9 1128.6,795.8 1129.7,795.7 1130.8,795.6 1131.9,795.5 1133.0,795.4 1134.1,795.4 1135.2,795.3 1136.3,795.2 1137.4,795.2 1138.5,795.1 1139.6,795.0 1140.7,795.0 1141.8,794.9 1142.9,794.8 1144.0,794.8 1145.1,794.7 1146.1,794.6 1147.2,794.6 1148.3,794.5 1149.4,794.5 1150.5,794.4 1151.6,794.4 1152.7,794.3 1153.8,794.2 1154.9,794.2 1156.0,794.1 1157.1,794.1 1158.2,794.0 1159.3,794.0 1160.4,793.9 1161.5,793.8 1162.6,793.8 1163.7,793.7 1164.8,793.7 1165.9,793.6 1167.0,793.6 1168.1,793.5 1169.2,793.5 1170.3,793.4 1171.4,793.4 1172.5,793.3 1173.6,793.2 1174.7,793.2 1175.8,793.1 1176.9,793.1 1178.0,793.0 1179.1,793.0 1180.2,792.9 1181.3,792.9 1182.3,792.8 1183.4,792.8 1184.5,792.7 1185.6,792.7 1186.7,792.6 1187.8,792.6 1188.9,792.6 1190.0,792.5 1191.1,792.5 1192.2,792.4 1193.3,792.4 1194.4,792.3 1195.5,792.3 1196.6,792.2 1197.7,792.2 1198.8,792.1 1199.9,792.1 1201.0,792.1 1202.1,792.0 1203.2,792.0 1204.3,791.9 1205.4,791.9 1206.5,791.9 1207.6,791.8 1208.7,791.8 1209.8,791.7 1210.9,791.7 1212.0,791.7 1213.1,791.6 1214.2,791.6 1215.3,791.6 1216.4,791.5 1217.5,791.5 1218.6,791.5 1219.6,791.4 1220.7,791.4 1221.8,791.4 1222.9,791.3 1224.0,791.3 1225.1,791.3 1226.2,791.3 1227.3,791.2 1228.4,791.2 1229.5,791.2 1230.6,791.2 1231.7,791.1 1232.8,791.1 1233.9,791.1 1235.0,791.1 1236.1,791.1 1237.2,791.0"/>
<polyline fill="none" stroke="none" marker-start="url(#m-blue)" marker-mid="url(#m-blue)" marker-end="url(#m-blue)" points="140.2,372.0 141.3,371.9 142.4,371.7 143.5,371.5 144.6,371.4 145.7,371.1 146.8,370.9 147.9,370.6 149.0,370.4 150.1,370.1 151.2,369.8 152.3,369.5 153.4,369.2 154.5,368.9 155.6,368.6 156.7,368.2 157.8,367.9 158.8,367.5 159.9,367.2 161.0,366.8 162.1,366.4 163.2,366.1 164.3,365.7 165.4,365.3 166.5,364.9 167.6,364.5 168.7,364.1 169.8,363.6 170.9,363.2 172.0,362.8 173.1,362.4 174.2,362.0 175.3,361.5 176.4,361.1 177.5,360.6 178.6,360.2 179.7,359.7 180.8,359.3 181.9,358.8 183.0,358.4 184.1,357.9 185.2,357.4 186.3,356.9 187.4,356.5 188.5,356.0 189.6,355.5 190.7,355.0 191.8,354.5 192.9,354.0 194.0,353.5 195.0,353.0 196.1,352.5 197.2,352.1 198.3,351.6 199.4,351.1 200.5,350.6 201.6,350.1 202.7,349.6 203.8,349.1 204.9,348.6 206.0,348.1 207.1,347.6 208.2,347.1 209.3,346.5 210.4,346.0 211.5,345.5 212.6,345.0 213.7,344.5 214.8,344.0 215.9,343.4 217.0,342.9 218.1,342.4 219.2,341.8 220.3,341.3 221.4,340.7 222.5,340.2 223.6,339.6 224.7,339.0 225.8,338.5 226.9,337.9 228.0,337.3 229.1,336.7 230.2,336.1 231.3,335.5 232.3,334.9 233.4,334.3 234.5,333.7 235.6,333.1 236.7,332.5 237.8,332.0 238.9,331.4 240.0,330.8 241.1,330.2 242.2,329.6 243.3,329.1 244.4,328.5 245.5,328.0 246.6,327.5 247.7,326.9 248.8,326.4 249.9,326.0 251.0,325.5 252.1,325.1 253.2,324.7 254.3,324.3 255.4,324.0 256.5,323.7 257.6,323.4 258.7,323.2 259.8,323.0 260.9,322.8 262.0,322.7 263.1,322.6 264.2,322.6 265.3,322.6 266.4,322.6 267.5,322.7 268.5,322.9 269.6,323.1 270.7,323.3 271.8,323.6 272.9,323.9 274.0,324.3 275.1,324.7 276.2,325.2 277.3,325.7 278.4,326.3 279.5,326.8 280.6,327.4 281.7,328.1 282.8,328.8 283.9,329.5 285.0,330.2 286.1,331.0 287.2,331.8 288.3,332.7 289.4,333.5 290.5,334.4 291.6,335.4 292.7,336.4 293.8,337.4 294.9,338.5 296.0,339.6 297.1,340.8 298.2,342.0 299.3,343.3 300.4,344.7 301.5,346.1 302.6,347.5 303.7,349.1 304.8,350.6 305.8,352.3 306.9,354.0 308.0,355.8 309.1,357.6 310.2,359.5 311.3,361.4 312.4,363.4 313.5,365.5 314.6,367.6 315.7,369.7 316.8,371.9 317.9,374.2 319.0,376.5 320.1,378.8 321.2,381.2 322.3,383.7 323.4,386.1 324.5,388.6 325.6,391.2 326.7,393.7 327.8,396.3 328.9,398.9 330.0,401.6 331.1,404.2 332.2,406.9 333.3,409.6 334.4,412.3 335.5,415.1 336.6,417.9 337.7,420.7 338.8,423.5 339.9,426.4 341.0,429.3 342.0,432.2 343.1,435.2 344.2,438.2 345.3,441.2 346.4,444.2 347.5,447.3 348.6,450.4 349.7,453.4 350.8,456.5 351.9,459.6 353.0,462.7 354.1,465.8 355.2,468.9 356.3,472.0 357.4,475.0 358.5,478.1 359.6,481.2 360.7,484.3 361.8,487.3 362.9,490.4 364.0,493.5 365.1,496.6 366.2,499.6 367.3,502.7 368.4,505.8 369.5,508.8 370.6,511.8 371.7,514.8 372.8,517.7 373.9,520.6 375.0,523.4 376.1,526.1 377.2,528.8 378.2,531.4 379.3,534.0 380.4,536.5 381.5,539.0 382.6,541.4 383.7,543.8 384.8,546.2 385.9,548.6 387.0,551.0 388.1,553.5 389.2,555.9 390.3,558.4 391.4,560.9 392.5,563.4 393.6,565.9 394.7,568.4 395.8,570.9 396.9,573.4 398.0,576.0 399.1,578.4 400.2,580.9 401.3,583.4 402.4,585.8 403.5,588.2 404.6,590.6 405.7,593.0 406.8,595.3 407.9,597.7 409.0,600.0 410.1,602.3 411.2,604.7 412.3,607.0 413.4,609.3 414.4,611.6 415.5,613.9 416.6,616.1 417.7,618.4 418.8,620.6 419.9,622.9 421.0,625.1 422.1,627.2 423.2,629.3 424.3,631.4 425.4,633.5 426.5,635.5 427.6,637.4 428.7,639.4 429.8,641.2 430.9,643.1 432.0,644.9 433.1,646.6 434.2,648.4 435.3,650.1 436.4,651.7 437.5,653.4 438.6,655.0 439.7,656.6 440.8,658.1 441.9,659.6 443.0,661.1 444.1,662.6 445.2,664.1 446.3,665.5 447.4,666.9 448.5,668.3 449.6,669.7 450.7,671.0 451.7,672.3 452.8,673.6 453.9,674.8 455.0,676.0 456.1,677.2 457.2,678.3 458.3,679.5 459.4,680.5 460.5,681.6 461.6,682.6 462.7,683.6 463.8,684.6 464.9,685.6 466.0,686.5 467.1,687.5 468.2,688.4 469.3,689.4 470.4,690.3 471.5,691.3 472.6,692.3 473.7,693.3 474.8,694.4 475.9,695.4 477.0,696.5 478.1,697.6 479.2,698.7 480.3,699.8 481.4,701.0 482.5,702.1 483.6,703.2 484.7,704.4 485.8,705.5 486.9,706.6 487.9,707.7 489.0,708.7 490.1,709.8 491.2,710.8 492.3,711.8 493.4,712.9 494.5,713.8 495.6,714.8 496.7,715.8 497.8,716.7 498.9,717.7 500.0,718.6 501.1,719.5 502.2,720.4 503.3,721.3 504.4,722.2 505.5,723.1 506.6,723.9 507.7,724.8 508.8,725.6 509.9,726.5 511.0,727.3 512.1,728.1 513.2,728.9 514.3,729.7 515.4,730.4 516.5,731.2 517.6,731.9 518.7,732.7 519.8,733.4 520.9,734.1 522.0,734.8 523.1,735.6 524.1,736.3 525.2,737.0 526.3,737.7 527.4,738.5 528.5,739.2 529.6,739.9 530.7,740.7 531.8,741.4 532.9,742.2 534.0,743.0 535.1,743.7 536.2,744.5 537.3,745.3 538.4,746.0 539.5,746.8 540.6,747.5 541.7,748.2 542.8,749.0 543.9,749.7 545.0,750.4 546.1,751.1 547.2,751.8 548.3,752.5 549.4,753.2 550.5,753.8 551.6,754.5 552.7,755.1 553.8,755.8 554.9,756.4 556.0,757.1 557.1,757.7 558.2,758.3 559.3,758.9 560.4,759.5 561.4,760.1 562.5,760.7 563.6,761.3 564.7,761.9 565.8,762.5 566.9,763.1 568.0,763.7 569.1,764.3 570.2,764.8 571.3,765.4 572.4,766.0 573.5,766.5 574.6,767.1 575.7,767.6 576.8,768.1 577.9,768.6 579.0,769.2 580.1,769.7 581.2,770.2 582.3,770.7 583.4,771.2 584.5,771.6 585.6,772.1 586.7,772.6 587.8,773.0 588.9,773.5 590.0,774.0 591.1,774.4 592.2,774.8 593.3,775.3 594.4,775.7 595.5,776.2 596.6,776.6 597.6,777.0 598.7,777.4 599.8,777.9 600.9,778.3 602.0,778.7 603.1,779.1 604.2,779.5 605.3,779.9 606.4,780.3 607.5,780.7 608.6,781.1 609.7,781.5 610.8,781.8 611.9,782.2 613.0,782.6 614.1,782.9 615.2,783.3 616.3,783.7 617.4,784.0 618.5,784.4 619.6,784.7 620.7,785.1 621.8,785.4 622.9,785.7 624.0,786.1 625.1,786.4 626.2,786.7 627.3,787.1 628.4,787.4 629.5,787.7 630.6,788.0 631.7,788.3 632.8,788.6 633.8,788.9 634.9,789.2 636.0,789.5 637.1,789.8 638.2,790.1 639.3,790.4 640.4,790.7 641.5,791.0 642.6,791.3 643.7,791.6 644.8,791.9 645.9,792.2 647.0,792.5 648.1,792.7 649.2,793.0 650.3,793.3 651.4,793.6 652.5,793.8 653.6,794.1 654.7,794.4 655.8,794.6 656.9,794.9 658.0,795.1 659.1,795.4 660.2,795.6 661.3,795.9 662.4,796.1 663.5,796.4 664.6,796.6 665.7,796.8 666.8,797.1 667.9,797.3 669.0,797.5 670.1,797.7 671.1,797.9 672.2,798.1 673.3,798.3 674.4,798.5 675.5,798.7 676.6,798.9 677.7,799.1 678.8,799.3 679.9,799.4 681.0,799.6 682.1,799.8 683.2,800.0 684.3,800.1 685.4,800.3 686.5,800.4 687.6,800.6 688.7,800.7 689.8,800.9 690.9,801.0 692.0,801.2 693.1,801.3 694.2,801.5 695.3,801.6 696.4,801.8 697.5,801.9 698.6,802.0 699.7,802.2 700.8,802.3 701.9,802.4 703.0,802.5 704.1,802.7 705.2,802.8 706.3,802.9 707.3,803.0 708.4,803.2 709.5,803.3 710.6,803.4 711.7,803.5 712.8,803.6 713.9,803.7 715.0,803.8 716.1,804.0 717.2,804.1 718.3,804.2 719.4,804.3 720.5,804.4 721.6,804.5 722.7,804.6 723.8,804.7 724.9,804.8 726.0,804.9 727.1,805.0 728.2,805.1 729.3,805.2 730.4,805.3 731.5,805.4 732.6,805.5 733.7,805.6 734.8,805.7 735.9,805.8 737.0,805.9 738.1,806.0 739.2,806.1 740.3,806.2 741.4,806.3 742.5,806.4 743.5,806.5 744.6,806.6 745.7,806.7 746.8,806.8 747.9,806.9 749.0,807.0 750.1,807.0 751.2,807.1 752.3,807.2 753.4,807.3 754.5,807.4 755.6,807.5 756.7,807.5 757.8,807.6 758.9,807.7 760.0,807.8 761.1,807.8 762.2,807.9 763.3,808.0 764.4,808.0 765.5,808.1 766.6,808.2 767.7,808.2 768.8,808.3 769.9,808.3 771.0,808.4 772.1,808.4 773.2,808.4 774.3,808.5 775.4,808.5 776.5,808.6 777.6,808.6 778.7,808.6 779.8,808.7 780.8,808.7 781.9,808.7 783.0,808.8 784.1,808.8 785.2,808.8 786.3,808.8 787.4,808.9 788.5,808.9 789.6,808.9 790.7,809.0 791.8,809.0 792.9,809.0 794.0,809.0 795.1,809.0 796.2,809.1 797.3,809.1 798.4,809.1 799.5,809.1 800.6,809.2 801.7,809.2 802.8,809.2 803.9,809.2 805.0,809.2 806.1,809.3 807.2,809.3 808.3,809.3 809.4,809.3 810.5,809.3 811.6,809.3 812.7,809.4 813.8,809.4 814.9,809.4 816.0,809.4 817.0,809.4 818.1,809.4 819.2,809.5 820.3,809.5 821.4,809.5 822.5,809.5 823.6,809.5 824.7,809.5 825.8,809.6 826.9,809.6 828.0,809.6 829.1,809.6 830.2,809.6 831.3,809.6 832.4,809.7 833.5,809.7 834.6,809.7 835.7,809.7 836.8,809.7 837.9,809.7 839.0,809.7 840.1,809.8 841.2,809.8 842.3,809.8 843.4,809.8 844.5,809.8 845.6,809.8 846.7,809.8 847.8,809.9 848.9,809.9 850.0,809.9 851.1,809.9 852.2,809.9 853.2,809.9 854.3,809.9 855.4,809.9 856.5,809.9 857.6,809.9 858.7,810.0 859.8,810.0 860.9,810.0 862.0,810.0 863.1,810.0 864.2,810.0 865.3,810.0 866.4,810.0 867.5,810.0 868.6,810.0 869.7,810.0 870.8,809.9 871.9,809.9 873.0,809.9 874.1,809.9 875.2,809.8 876.3,809.8 877.4,809.8 878.5,809.7 879.6,809.7 880.7,809.6 881.8,809.6 882.9,809.5 884.0,809.5 885.1,809.4 886.2,809.3 887.3,809.3 888.4,809.2 889.5,809.1 890.5,809.0 891.6,809.0 892.7,808.9 893.8,808.8 894.9,808.7 896.0,808.6 897.1,808.5 898.2,808.4 899.3,808.3 900.4,808.2 901.5,808.2 902.6,808.1 903.7,808.0 904.8,807.9 905.9,807.8 907.0,807.7 908.1,807.6 909.2,807.5 910.3,807.4 911.4,807.3 912.5,807.3 913.6,807.2 914.7,807.1 915.8,807.0 916.9,806.9 918.0,806.8 919.1,806.8 920.2,806.7 921.3,806.6 922.4,806.6 923.5,806.5 924.6,806.4 925.7,806.4 926.7,806.3 927.8,806.2 928.9,806.2 930.0,806.1 931.1,806.1 932.2,806.0 933.3,806.0 934.4,805.9 935.5,805.8 936.6,805.8 937.7,805.7 938.8,805.7 939.9,805.6 941.0,805.6 942.1,805.5 943.2,805.5 944.3,805.4 945.4,805.4 946.5,805.3 947.6,805.3 948.7,805.2 949.8,805.1 950.9,805.1 952.0,805.0 953.1,805.0 954.2,804.9 955.3,804.9 956.4,804.8 957.5,804.8 958.6,804.7 959.7,804.7 960.8,804.6 961.9,804.6 963.0,804.5 964.0,804.5 965.1,804.4 966.2,804.4 967.3,804.3 968.4,804.3 969.5,804.2 970.6,804.2 971.7,804.1 972.8,804.1 973.9,804.0 975.0,804.0 976.1,803.9 977.2,803.8 978.3,803.8 979.4,803.7 980.5,803.7 981.6,803.6 982.7,803.6 983.8,803.5 984.9,803.5 986.0,803.4 987.1,803.3 988.2,803.3 989.3,803.2 990.4,803.2 991.5,803.1 992.6,803.0 993.7,803.0 994.8,802.9 995.9,802.9 997.0,802.8 998.1,802.7 999.2,802.7 1000.2,802.6 1001.3,802.6 1002.4,802.5 1003.5,802.4 1004.6,802.4 1005.7,802.3 1006.8,802.2 1007.9,802.2 1009.0,802.1 1010.1,802.1 1011.2,802.0 1012.3,801.9 1013.4,801.9 1014.5,801.8 1015.6,801.7 1016.7,801.7 1017.8,801.6 1018.9,801.5 1020.0,801.5 1021.1,801.4 1022.2,801.4 1023.3,801.3 1024.4,801.2 1025.5,801.2 1026.6,801.1 1027.7,801.0 1028.8,801.0 1029.9,800.9 1031.0,800.8 1032.1,800.8 1033.2,800.7 1034.3,800.7 1035.4,800.6 1036.4,800.5 1037.5,800.5 1038.6,800.4 1039.7,800.3 1040.8,800.3 1041.9,800.2 1043.0,800.1 1044.1,800.1 1045.2,800.0 1046.3,800.0 1047.4,799.9 1048.5,799.8 1049.6,799.8 1050.7,799.7 1051.8,799.6 1052.9,799.6 1054.0,799.5 1055.1,799.4 1056.2,799.4 1057.3,799.3 1058.4,799.3 1059.5,799.2 1060.6,799.1 1061.7,799.1 1062.8,799.0 1063.9,798.9 1065.0,798.9 1066.1,798.8 1067.2,798.7 1068.3,798.7 1069.4,798.6 1070.5,798.5 1071.6,798.5 1072.6,798.4 1073.7,798.3 1074.8,798.3 1075.9,798.2 1077.0,798.1 1078.1,798.1 1079.2,798.0 1080.3,797.9 1081.4,797.9 1082.5,797.8 1083.6,797.7 1084.7,797.7 1085.8,797.6 1086.9,797.5 1088.0,797.5 1089.1,797.4 1090.2,797.3 1091.3,797.3 1092.4,797.2 1093.5,797.1 1094.6,797.1 1095.7,797.0 1096.8,796.9 1097.9,796.9 1099.0,796.8 1100.1,796.8 1101.2,796.7 1102.3,796.6 1103.4,796.6 1104.5,796.5 1105.6,796.4 1106.7,796.4 1107.8,796.3 1108.9,796.3 1109.9,796.2 1111.0,796.1 1112.1,796.1 1113.2,796.0 1114.3,795.9 1115.4,795.9 1116.5,795.8 1117.6,795.8 1118.7,795.7 1119.8,795.7 1120.9,795.6 1122.0,795.5 1123.1,795.5 1124.2,795.4 1125.3,795.4 1126.4,795.3 1127.5,795.3 1128.6,795.2 1129.7,795.2 1130.8,795.1 1131.9,795.1 1133.0,795.0 1134.1,794.9 1135.2,794.9 1136.3,794.8 1137.4,794.8 1138.5,794.8 1139.6,794.7 1140.7,794.7 1141.8,794.6 1142.9,794.6 1144.0,794.5 1145.1,794.5 1146.1,794.4 1147.2,794.4 1148.3,794.3 1149.4,794.3 1150.5,794.2 1151.6,794.2 1152.7,794.1 1153.8,794.1 1154.9,794.1 1156.0,794.0 1157.1,794.0 1158.2,793.9 1159.3,793.9 1160.4,793.8 1161.5,793.8 1162.6,793.7 1163.7,793.7 1164.8,793.7 1165.9,793.6 1167.0,793.6 1168.1,793.5 1169.2,793.5 1170.3,793.4 1171.4,793.4 1172.5,793.4 1173.6,793.3 1174.7,793.3 1175.8,793.2 1176.9,793.2 1178.0,793.1 1179.1,793.1 1180.2,793.1 1181.3,793.0 1182.3,793.0 1183.4,792.9 1184.5,792.9 1185.6,792.9 1186.7,792.8 1187.8,792.8 1188.9,792.7 1190.0,792.7 1191.1,792.7 1192.2,792.6 1193.3,792.6 1194.4,792.6 1195.5,792.5 1196.6,792.5 1197.7,792.4 1198.8,792.4 1199.9,792.4 1201.0,792.3 1202.1,792.3 1203.2,792.3 1204.3,792.2 1205.4,792.2 1206.5,792.2 1207.6,792.1 1208.7,792.1 1209.8,792.1 1210.9,792.0 1212.0,792.0 1213.1,792.0 1214.2,791.9 1215.3,791.9 1216.4,791.9 1217.5,791.8 1218.6,791.8 1219.6,791.8 1220.7,791.7 1221.8,791.7 1222.9,791.7 1224.0,791.6 1225.1,791.6 1226.2,791.6 1227.3,791.6 1228.4,791.5 1229.5,791.5 1230.6,791.5 1231.7,791.4 1232.8,791.4 1233.9,791.4 1235.0,791.4 1236.1,791.4 1237.2,791.4"/>
<polyline fill="none" stroke="none" marker-start="url(#m-cyan)" marker-mid="url(#m-cyan)" marker-end="url(#m-cyan)" points="140.2,482.2 141.3,482.2 142.4,482.2 143.5,482.2 144.6,482.2 145.7,482.1 146.8,482.1 147.9,482.1 149.0,482.0 150.1,482.0 151.2,482.0 152.3,481.9 153.4,481.9 154.5,481.9 155.6,481.8 156.7,481.8 157.8,481.8 158.8,481.7 159.9,481.7 161.0,481.7 162.1,481.6 163.2,481.6 164.3,481.6 165.4,481.5 166.5,481.5 167.6,481.5 168.7,481.4 169.8,481.4 170.9,481.4 172.0,481.3 173.1,481.3 174.2,481.3 175.3,481.2 176.4,481.2 177.5,481.1 178.6,481.1 179.7,481.1 180.8,481.0 181.9,481.0 183.0,480.9 184.1,480.9 185.2,480.9 186.3,480.8 187.4,480.8 188.5,480.7 189.6,480.7 190.7,480.7 191.8,480.6 192.9,480.6 194.0,480.6 195.0,480.5 196.1,480.5 197.2,480.5 198.3,480.4 199.4,480.4 200.5,480.4 201.6,480.3 202.7,480.3 203.8,480.3 204.9,480.2 206.0,480.2 207.1,480.2 208.2,480.2 209.3,480.1 210.4,480.1 211.5,480.1 212.6,480.1 213.7,480.0 214.8,480.0 215.9,480.0 217.0,480.0 218.1,480.0 219.2,479.9 220.3,479.9 221.4,479.9 222.5,479.9 223.6,479.9 224.7,479.8 225.8,479.8 226.9,479.8 228.0,479.8 229.1,479.8 230.2,479.8 231.3,479.8 232.3,479.8 233.4,479.8 234.5,479.8 235.6,479.8 236.7,479.8 237.8,479.8 238.9,479.8 240.0,479.8 241.1,479.9 242.2,479.9 243.3,480.0 244.4,480.1 245.5,480.2 246.6,480.3 247.7,480.4 248.8,480.5 249.9,480.6 251.0,480.7 252.1,480.9 253.2,481.0 254.3,481.2 255.4,481.4 256.5,481.6 257.6,481.8 258.7,482.0 259.8,482.2 260.9,482.4 262.0,482.7 263.1,482.9 264.2,483.2 265.3,483.5 266.4,483.8 267.5,484.1 268.5,484.5 269.6,484.8 270.7,485.2 271.8,485.6 272.9,486.0 274.0,486.4 275.1,486.8 276.2,487.3 277.3,487.7 278.4,488.2 279.5,488.8 280.6,489.3 281.7,489.9 282.8,490.4 283.9,491.1 285.0,491.7 286.1,492.3 287.2,493.0 288.3,493.7 289.4,494.4 290.5,495.2 291.6,496.0 292.7,496.8 293.8,497.6 294.9,498.5 296.0,499.4 297.1,500.3 298.2,501.3 299.3,502.3 300.4,503.3 301.5,504.3 302.6,505.4 303.7,506.5 304.8,507.6 305.8,508.7 306.9,509.9 308.0,511.1 309.1,512.3 310.2,513.6 311.3,514.8 312.4,516.1 313.5,517.4 314.6,518.7 315.7,520.0 316.8,521.4 317.9,522.7 319.0,524.0 320.1,525.3 321.2,526.6 322.3,527.8 323.4,529.1 324.5,530.4 325.6,531.6 326.7,532.9 327.8,534.2 328.9,535.4 330.0,536.7 331.1,538.0 332.2,539.2 333.3,540.5 334.4,541.9 335.5,543.2 336.6,544.5 337.7,545.9 338.8,547.3 339.9,548.7 341.0,550.2 342.0,551.6 343.1,553.1 344.2,554.6 345.3,556.2 346.4,557.8 347.5,559.4 348.6,561.0 349.7,562.7 350.8,564.4 351.9,566.0 353.0,567.8 354.1,569.5 355.2,571.2 356.3,572.9 357.4,574.6 358.5,576.3 359.6,577.9 360.7,579.6 361.8,581.3 362.9,582.9 364.0,584.5 365.1,586.2 366.2,587.8 367.3,589.4 368.4,591.0 369.5,592.6 370.6,594.2 371.7,595.8 372.8,597.4 373.9,599.0 375.0,600.5 376.1,602.1 377.2,603.6 378.2,605.1 379.3,606.5 380.4,607.9 381.5,609.3 382.6,610.6 383.7,611.9 384.8,613.2 385.9,614.5 387.0,615.8 388.1,617.0 389.2,618.2 390.3,619.5 391.4,620.8 392.5,622.0 393.6,623.3 394.7,624.7 395.8,626.0 396.9,627.4 398.0,628.8 399.1,630.1 400.2,631.5 401.3,632.9 402.4,634.2 403.5,635.5 404.6,636.8 405.7,638.0 406.8,639.2 407.9,640.3 409.0,641.4 410.1,642.5 411.2,643.6 412.3,644.6 413.4,645.6 414.4,646.6 415.5,647.6 416.6,648.7 417.7,649.7 418.8,650.7 419.9,651.8 421.0,652.8 422.1,653.9 423.2,655.0 424.3,656.2 425.4,657.3 426.5,658.5 427.6,659.6 428.7,660.8 429.8,662.0 430.9,663.2 432.0,664.4 433.1,665.5 434.2,666.7 435.3,667.9 436.4,669.1 437.5,670.3 438.6,671.5 439.7,672.6 440.8,673.8 441.9,674.9 443.0,676.1 444.1,677.2 445.2,678.4 446.3,679.5 447.4,680.6 448.5,681.7 449.6,682.8 450.7,683.9 451.7,684.9 452.8,686.0 453.9,687.0 455.0,688.1 456.1,689.1 457.2,690.1 458.3,691.1 459.4,692.1 460.5,693.1 461.6,694.1 462.7,695.1 463.8,696.1 464.9,697.0 466.0,698.0 467.1,698.9 468.2,699.9 469.3,700.8 470.4,701.8 471.5,702.7 472.6,703.6 473.7,704.6 474.8,705.5 475.9,706.4 477.0,707.3 478.1,708.3 479.2,709.2 480.3,710.1 481.4,711.0 482.5,711.9 483.6,712.8 484.7,713.8 485.8,714.7 486.9,715.6 487.9,716.5 489.0,717.4 490.1,718.3 491.2,719.2 492.3,720.1 493.4,721.0 494.5,721.9 495.6,722.8 496.7,723.7 497.8,724.5 498.9,725.4 500.0,726.3 501.1,727.2 502.2,728.0 503.3,728.9 504.4,729.7 505.5,730.6 506.6,731.4 507.7,732.3 508.8,733.1 509.9,734.0 511.0,734.8 512.1,735.6 513.2,736.5 514.3,737.3 515.4,738.1 516.5,739.0 517.6,739.8 518.7,740.6 519.8,741.5 520.9,742.3 522.0,743.1 523.1,744.0 524.1,744.8 525.2,745.6 526.3,746.4 527.4,747.2 528.5,748.0 529.6,748.8 530.7,749.6 531.8,750.4 532.9,751.2 534.0,751.9 535.1,752.7 536.2,753.4 537.3,754.2 538.4,754.9 539.5,755.6 540.6,756.3 541.7,756.9 542.8,757.6 543.9,758.2 545.0,758.9 546.1,759.5 547.2,760.1 548.3,760.7 549.4,761.2 550.5,761.8 551.6,762.4 552.7,762.9 553.8,763.5 554.9,764.1 556.0,764.6 557.1,765.2 558.2,765.8 559.3,766.3 560.4,766.9 561.4,767.5 562.5,768.1 563.6,768.6 564.7,769.2 565.8,769.8 566.9,770.4 568.0,770.9 569.1,771.5 570.2,772.1 571.3,772.6 572.4,773.2 573.5,773.7 574.6,774.2 575.7,774.7 576.8,775.2 577.9,775.7 579.0,776.2 580.1,776.7 581.2,777.1 582.3,777.6 583.4,778.0 584.5,778.4 585.6,778.8 586.7,779.2 587.8,779.6 588.9,780.0 590.0,780.4 591.1,780.7 592.2,781.1 593.3,781.4 594.4,781.8 595.5,782.1 596.6,782.4 597.6,782.8 598.7,783.1 599.8,783.4 600.9,783.7 602.0,784.0 603.1,784.3 604.2,784.6 605.3,784.9 606.4,785.2 607.5,785.5 608.6,785.8 609.7,786.1 610.8,786.3 611.9,786.6 613.0,786.9 614.1,787.2 615.2,787.4 616.3,787.7 617.4,788.0 618.5,788.2 619.6,788.5 620.7,788.8 621.8,789.0 622.9,789.3 624.0,789.5 625.1,789.8 626.2,790.1 627.3,790.3 628.4,790.6 629.5,790.9 630.6,791.1 631.7,791.4 632.8,791.7 633.8,791.9 634.9,792.2 636.0,792.4 637.1,792.7 638.2,793.0 639.3,793.2 640.4,793.5 641.5,793.8 642.6,794.0 643.7,794.3 644.8,794.6 645.9,794.8 647.0,795.1 648.1,795.4 649.2,795.6 650.3,795.9 651.4,796.1 652.5,796.4 653.6,796.6 654.7,796.9 655.8,797.1 656.9,797.3 658.0,797.6 659.1,797.8 660.2,798.0 661.3,798.2 662.4,798.5 663.5,798.7 664.6,798.9 665.7,799.1 666.8,799.3 667.9,799.5 669.0,799.6 670.1,799.8 671.1,800.0 672.2,800.2 673.3,800.3 674.4,800.5 675.5,800.6 676.6,800.7 677.7,800.9 678.8,801.0 679.9,801.1 681.0,801.2 682.1,801.4 683.2,801.5 684.3,801.6 685.4,801.7 686.5,801.8 687.6,801.8 688.7,801.9 689.8,802.0 690.9,802.1 692.0,802.2 693.1,802.3 694.2,802.4 695.3,802.4 696.4,802.5 697.5,802.6 698.6,802.6 699.7,802.7 700.8,802.8 701.9,802.9 703.0,802.9 704.1,803.0 705.2,803.1 706.3,803.1 707.3,803.2 708.4,803.2 709.5,803.3 710.6,803.4 711.7,803.4 712.8,803.5 713.9,803.5 715.0,803.6 716.1,803.7 717.2,803.7 718.3,803.8 719.4,803.9 720.5,803.9 721.6,804.0 722.7,804.0 723.8,804.1 724.9,804.2 726.0,804.2 727.1,804.3 728.2,804.4 729.3,804.4 730.4,804.5 731.5,804.6 732.6,804.6 733.7,804.7 734.8,804.8 735.9,804.9 737.0,804.9 738.1,805.0 739.2,805.1 740.3,805.2 741.4,805.2 742.5,805.3 743.5,805.4 744.6,805.4 745.7,805.5 746.8,805.6 747.9,805.7 749.0,805.7 750.1,805.8 751.2,805.9 752.3,805.9 753.4,806.0 754.5,806.1 755.6,806.1 756.7,806.2 757.8,806.3 758.9,806.3 760.0,806.4 761.1,806.4 762.2,806.5 763.3,806.5 764.4,806.6 765.5,806.6 766.6,806.7 767.7,806.7 768.8,806.8 769.9,806.8 771.0,806.9 772.1,806.9 773.2,806.9 774.3,807.0 775.4,807.0 776.5,807.0 777.6,807.1 778.7,807.1 779.8,807.1 780.8,807.2 781.9,807.2 783.0,807.2 784.1,807.2 785.2,807.3 786.3,807.3 787.4,807.3 788.5,807.3 789.6,807.4 790.7,807.4 791.8,807.4 792.9,807.4 794.0,807.5 795.1,807.5 796.2,807.5 797.3,807.5 798.4,807.6 799.5,807.6 800.6,807.6 801.7,807.6 802.8,807.6 803.9,807.6 805.0,807.7 806.1,807.7 807.2,807.7 808.3,807.7 809.4,807.7 810.5,807.7 811.6,807.7 812.7,807.7 813.8,807.8 814.9,807.8 816.0,807.8 817.0,807.8 818.1,807.8 819.2,807.8 820.3,807.8 821.4,807.8 822.5,807.8 823.6,807.8 824.7,807.8 825.8,807.8 826.9,807.8 828.0,807.8 829.1,807.8 830.2,807.8 831.3,807.7 832.4,807.7 833.5,807.7 834.6,807.7 835.7,807.7 836.8,807.7 837.9,807.7 839.0,807.7 840.1,807.6 841.2,807.6 842.3,807.6 843.4,807.6 844.5,807.6 845.6,807.5 846.7,807.5 847.8,807.5 848.9,807.5 850.0,807.5 851.1,807.4 852.2,807.4 853.2,807.4 854.3,807.4 855.4,807.3 856.5,807.3 857.6,807.3 858.7,807.3 859.8,807.2 860.9,807.2 862.0,807.2 863.1,807.2 864.2,807.1 865.3,807.1 866.4,807.1 867.5,807.0 868.6,807.0 869.7,806.9 870.8,806.9 871.9,806.9 873.0,806.8 874.1,806.8 875.2,806.7 876.3,806.7 877.4,806.6 878.5,806.5 879.6,806.5 880.7,806.4 881.8,806.3 882.9,806.2 884.0,806.2 885.1,806.1 886.2,806.0 887.3,805.9 888.4,805.8 889.5,805.7 890.5,805.6 891.6,805.5 892.7,805.4 893.8,805.3 894.9,805.2 896.0,805.1 897.1,805.0 898.2,804.9 899.3,804.8 900.4,804.7 901.5,804.6 902.6,804.5 903.7,804.4 904.8,804.3 905.9,804.2 907.0,804.1 908.1,804.0 909.2,803.9 910.3,803.8 911.4,803.7 912.5,803.6 913.6,803.5 914.7,803.4 915.8,803.3 916.9,803.2 918.0,803.1 919.1,803.0 920.2,802.9 921.3,802.8 922.4,802.8 923.5,802.7 924.6,802.6 925.7,802.5 926.7,802.4 927.8,802.4 928.9,802.3 930.0,802.2 931.1,802.1 932.2,802.0 933.3,802.0 934.4,801.9 935.5,801.8 936.6,801.7 937.7,801.6 938.8,801.6 939.9,801.5 941.0,801.4 942.1,801.3 943.2,801.2 944.3,801.2 945.4,801.1 946.5,801.0 947.6,800.9 948.7,800.9 949.8,800.8 950.9,800.7 952.0,800.6 953.1,800.6 954.2,800.5 955.3,800.4 956.4,800.3 957.5,800.3 958.6,800.2 959.7,800.1 960.8,800.0 961.9,800.0 963.0,799.9 964.0,799.8 965.1,799.8 966.2,799.7 967.3,799.6 968.4,799.6 969.5,799.5 970.6,799.4 971.7,799.4 972.8,799.3 973.9,799.2 975.0,799.2 976.1,799.1 977.2,799.1 978.3,799.0 979.4,798.9 980.5,798.9 981.6,798.8 982.7,798.8 983.8,798.7 984.9,798.7 986.0,798.6 987.1,798.6 988.2,798.5 989.3,798.5 990.4,798.4 991.5,798.4 992.6,798.3 993.7,798.3 994.8,798.2 995.9,798.2 997.0,798.1 998.1,798.1 999.2,798.0 1000.2,798.0 1001.3,798.0 1002.4,797.9 1003.5,797.9 1004.6,797.8 1005.7,797.8 1006.8,797.8 1007.9,797.7 1009.0,797.7 1010.1,797.6 1011.2,797.6 1012.3,797.6 1013.4,797.5 1014.5,797.5 1015.6,797.5 1016.7,797.4 1017.8,797.4 1018.9,797.3 1020.0,797.3 1021.1,797.3 1022.2,797.2 1023.3,797.2 1024.4,797.2 1025.5,797.1 1026.6,797.1 1027.7,797.1 1028.8,797.0 1029.9,797.0 1031.0,796.9 1032.1,796.9 1033.2,796.9 1034.3,796.8 1035.4,796.8 1036.4,796.8 1037.5,796.7 1038.6,796.7 1039.7,796.6 1040.8,796.6 1041.9,796.6 1043.0,796.5 1044.1,796.5 1045.2,796.4 1046.3,796.4 1047.4,796.4 1048.5,796.3 1049.6,796.3 1050.7,796.2 1051.8,796.2 1052.9,796.1 1054.0,796.1 1055.1,796.1 1056.2,796.0 1057.3,796.0 1058.4,795.9 1059.5,795.9 1060.6,795.8 1061.7,795.8 1062.8,795.7 1063.9,795.7 1065.0,795.6 1066.1,795.6 1067.2,795.6 1068.3,795.5 1069.4,795.5 1070.5,795.4 1071.6,795.4 1072.6,795.3 1073.7,795.3 1074.8,795.2 1075.9,795.2 1077.0,795.1 1078.1,795.1 1079.2,795.0 1080.3,795.0 1081.4,794.9 1082.5,794.9 1083.6,794.8 1084.7,794.8 1085.8,794.7 1086.9,794.7 1088.0,794.7 1089.1,794.6 1090.2,794.6 1091.3,794.5 1092.4,794.5 1093.5,794.4 1094.6,794.4 1095.7,794.3 1096.8,794.3 1097.9,794.2 1099.0,794.2 1100.1,794.1 1101.2,794.1 1102.3,794.0 1103.4,794.0 1104.5,793.9 1105.6,793.9 1106.7,793.8 1107.8,793.8 1108.9,793.7 1109.9,793.7 1111.0,793.6 1112.1,793.6 1113.2,793.6 1114.3,793.5 1115.4,793.5 1116.5,793.4 1117.6,793.4 1118.7,793.3 1119.8,793.3 1120.9,793.2 1122.0,793.2 1123.1,793.1 1124.2,793.1 1125.3,793.1 1126.4,793.0 1127.5,793.0 1128.6,792.9 1129.7,792.9 1130.8,792.8 1131.9,792.8 1133.0,792.7 1134.1,792.7 1135.2,792.7 1136.3,792.6 1137.4,792.6 1138.5,792.5 1139.6,792.5 1140.7,792.5 1141.8,792.4 1142.9,792.4 1144.0,792.3 1145.1,792.3 1146.1,792.3 1147.2,792.2 1148.3,792.2 1149.4,792.1 1150.5,792.1 1151.6,792.1 1152.7,792.0 1153.8,792.0 1154.9,791.9 1156.0,791.9 1157.1,791.9 1158.2,791.8 1159.3,791.8 1160.4,791.7 1161.5,791.7 1162.6,791.7 1163.7,791.6 1164.8,791.6 1165.9,791.6 1167.0,791.5 1168.1,791.5 1169.2,791.4 1170.3,791.4 1171.4,791.4 1172.5,791.3 1173.6,791.3 1174.7,791.3 1175.8,791.2 1176.9,791.2 1178.0,791.1 1179.1,791.1 1180.2,791.1 1181.3,791.0 1182.3,791.0 1183.4,791.0 1184.5,790.9 1185.6,790.9 1186.7,790.8 1187.8,790.8 1188.9,790.8 1190.0,790.7 1191.1,790.7 1192.2,790.7 1193.3,790.6 1194.4,790.6 1195.5,790.6 1196.6,790.5 1197.7,790.5 1198.8,790.5 1199.9,790.4 1201.0,790.4 1202.1,790.3 1203.2,790.3 1204.3,790.3 1205.4,790.2 1206.5,790.2 1207.6,790.2 1208.7,790.1 1209.8,790.1 1210.9,790.1 1212.0,790.0 1213.1,790.0 1214.2,790.0 1215.3,789.9 1216.4,789.9 1217.5,789.9 1218.6,789.8 1219.6,789.8 1220.7,789.8 1221.8,789.7 1222.9,789.7 1224.0,789.7 1225.1,789.6 1226.2,789.6 1227.3,789.6 1228.4,789.6 1229.5,789.5 1230.6,789.5 1231.7,789.5 1232.8,789.4 1233.9,789.4 1235.0,789.4 1236.1,789.4 1237.2,789.4"/>
</g>
<g filter="url(#soft2)">
<g stroke="#000" stroke-width="6.4" fill="none" stroke-linecap="butt">
<rect x="140.2" y="20.1" width="1097.0" height="885.2"/>
<path d="M122.4,20.1H140.2 M131.3,60.3H140.2 M122.4,100.6H140.2 M131.3,140.8H140.2 M122.4,181.0H140.2 M131.3,221.3H140.2 M122.4,261.5H140.2 M131.3,301.8H140.2 M122.4,342.0H140.2 M131.3,382.2H140.2 M122.4,422.5H140.2 M131.3,462.7H140.2 M122.4,502.9H140.2 M131.3,543.2H140.2 M122.4,583.4H140.2 M131.3,623.6H140.2 M122.4,663.9H140.2 M131.3,704.1H140.2 M122.4,744.4H140.2 M131.3,784.6H140.2 M122.4,824.8H140.2 M131.3,865.1H140.2 M122.4,905.3H140.2 M140.2,905.3V922.6 M208.8,905.3V914 M277.3,905.3V922.6 M345.9,905.3V914 M414.4,905.3V922.6 M483.0,905.3V914 M551.6,905.3V922.6 M620.1,905.3V914 M688.7,905.3V922.6 M757.3,905.3V914 M825.8,905.3V922.6 M894.4,905.3V914 M963.0,905.3V922.6 M1031.5,905.3V914 M1100.1,905.3V922.6 M1168.6,905.3V914 M1237.2,905.3V922.6"/>
</g>
<text class="tick" transform="translate(110.8,30.9) scale(1,1.07)" text-anchor="end">2.0</text>
<text class="tick" transform="translate(110.8,111.4) scale(1,1.07)" text-anchor="end">1.8</text>
<text class="tick" transform="translate(110.8,191.8) scale(1,1.07)" text-anchor="end">1.6</text>
<text class="tick" transform="translate(110.8,272.3) scale(1,1.07)" text-anchor="end">1.4</text>
<text class="tick" transform="translate(110.8,352.8) scale(1,1.07)" text-anchor="end">1.2</text>
<text class="tick" transform="translate(110.8,433.3) scale(1,1.07)" text-anchor="end">1.0</text>
<text class="tick" transform="translate(110.8,513.7) scale(1,1.07)" text-anchor="end">0.8</text>
<text class="tick" transform="translate(110.8,594.2) scale(1,1.07)" text-anchor="end">0.6</text>
<text class="tick" transform="translate(110.8,674.7) scale(1,1.07)" text-anchor="end">0.4</text>
<text class="tick" transform="translate(110.8,755.2) scale(1,1.07)" text-anchor="end">0.2</text>
<text class="tick" transform="translate(110.8,835.6) scale(1,1.07)" text-anchor="end">0.0</text>
<text class="tick" transform="translate(110.8,916.1) scale(1,1.07)" text-anchor="end">-0.2</text>
<text class="tick" transform="translate(140.2,963.6) scale(1,1.05)" text-anchor="middle">250</text>
<text class="tick" transform="translate(277.3,963.6) scale(1,1.05)" text-anchor="middle">300</text>
<text class="tick" transform="translate(414.4,963.6) scale(1,1.05)" text-anchor="middle">350</text>
<text class="tick" transform="translate(551.6,963.6) scale(1,1.05)" text-anchor="middle">400</text>
<text class="tick" transform="translate(688.7,963.6) scale(1,1.05)" text-anchor="middle">450</text>
<text class="tick" transform="translate(825.8,963.6) scale(1,1.05)" text-anchor="middle">500</text>
<text class="tick" transform="translate(963.0,963.6) scale(1,1.05)" text-anchor="middle">550</text>
<text class="tick" transform="translate(1100.1,963.6) scale(1,1.05)" text-anchor="middle">600</text>
<text class="tick" transform="translate(1237.2,963.6) scale(1,1.05)" text-anchor="middle">650</text>
<text class="ttl" x="486" y="1021.2" textLength="369" lengthAdjust="spacing">Wavelength (nm)</text>
<text class="ttl" transform="translate(37.1,593.5) rotate(-90)" textLength="377.5" lengthAdjust="spacing">Absorbance (a.u.)</text>
<line x1="963" y1="85.2" x2="1056" y2="85.2" stroke="#000000" stroke-width="7.5" stroke-linecap="round"/>
<circle cx="1009" cy="85.2" r="4.9" fill="#fff" stroke="#000000" stroke-width="1.2"/>
<path d="M1006.6,86.4a2.6,2.6 0 0 1 3.6,-3.4" fill="none" stroke="#000000" stroke-opacity="0.55" stroke-width="1.1"/>
<text class="leg" x="1068" y="99.7">P</text>
<line x1="963" y1="137.6" x2="1056" y2="137.6" stroke="#ee1a22" stroke-width="7.5" stroke-linecap="round"/>
<circle cx="1009" cy="137.6" r="4.9" fill="#fff" stroke="#b8141a" stroke-width="1.2"/>
<path d="M1006.6,138.8a2.6,2.6 0 0 1 3.6,-3.4" fill="none" stroke="#b8141a" stroke-opacity="0.55" stroke-width="1.1"/>
<text class="leg" x="1068" y="152.4">Fe<tspan class="sub" dy="11.2">1E14</tspan></text>
<line x1="963" y1="198.3" x2="1056" y2="198.3" stroke="#1fe21f" stroke-width="7.5" stroke-linecap="round"/>
<circle cx="1009" cy="198.3" r="4.9" fill="#fff" stroke="#19b019" stroke-width="1.2"/>
<path d="M1006.6,199.5a2.6,2.6 0 0 1 3.6,-3.4" fill="none" stroke="#19b019" stroke-opacity="0.55" stroke-width="1.1"/>
<text class="leg" x="1068" y="213">Fe<tspan class="sub" dy="11.2">5 E14</tspan></text>
<line x1="963" y1="259.5" x2="1056" y2="259.5" stroke="#1414d2" stroke-width="7.5" stroke-linecap="round"/>
<circle cx="1009" cy="259.5" r="4.9" fill="#fff" stroke="#10109c" stroke-width="1.2"/>
<path d="M1006.6,260.7a2.6,2.6 0 0 1 3.6,-3.4" fill="none" stroke="#10109c" stroke-opacity="0.55" stroke-width="1.1"/>
<text class="leg" x="1068" y="274">Fe<tspan class="sub" dy="11.2">1E15</tspan></text>
<line x1="963" y1="320.5" x2="1056" y2="320.5" stroke="#1eeaea" stroke-width="7.5" stroke-linecap="round"/>
<circle cx="1009" cy="320.5" r="4.9" fill="#fff" stroke="#7fe8e8" stroke-width="1.2"/>
<path d="M1006.6,321.7a2.6,2.6 0 0 1 3.6,-3.4" fill="none" stroke="#7fe8e8" stroke-opacity="0.55" stroke-width="1.1"/>
<text class="leg" x="1068" y="334.8">Fe<tspan class="sub" dy="11.2">5 E15</tspan></text>
</g>
</svg>
</body></html>
